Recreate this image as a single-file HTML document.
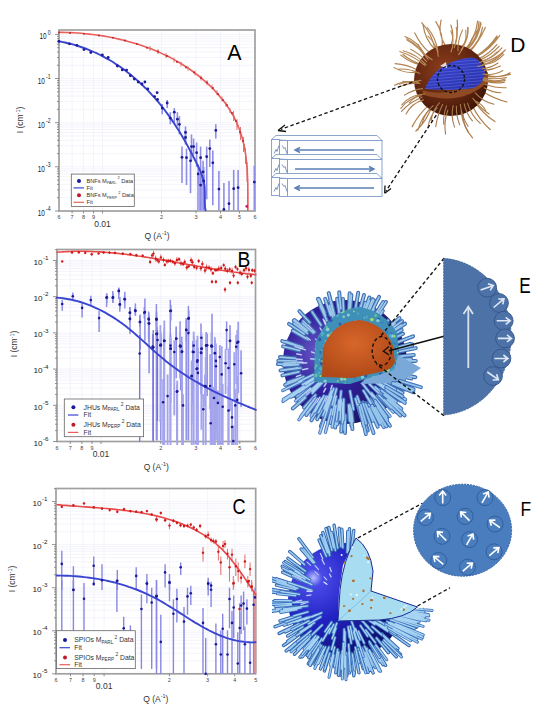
<!DOCTYPE html>
<html><head><meta charset="utf-8"><style>
html,body{margin:0;padding:0;background:#fff;width:543px;height:720px;overflow:hidden}
svg{display:block;font-family:"Liberation Sans", sans-serif}
</style></head><body>
<svg width="543" height="720" viewBox="0 0 543 720">
<rect width="543" height="720" fill="#fff"/>
<g stroke="#efeffa" stroke-width="0.7"><line x1="72.1" y1="30" x2="72.1" y2="211"/><line x1="83.5" y1="30" x2="83.5" y2="211"/><line x1="93.5" y1="30" x2="93.5" y2="211"/><line x1="102.5" y1="30" x2="102.5" y2="211"/><line x1="161.5" y1="30" x2="161.5" y2="211"/><line x1="196.0" y1="30" x2="196.0" y2="211"/><line x1="220.5" y1="30" x2="220.5" y2="211"/><line x1="239.5" y1="30" x2="239.5" y2="211"/><line x1="59" y1="34.4" x2="255" y2="34.4"/><line x1="59" y1="78.5" x2="255" y2="78.5"/><line x1="59" y1="65.3" x2="255" y2="65.3"/><line x1="59" y1="57.5" x2="255" y2="57.5"/><line x1="59" y1="52.0" x2="255" y2="52.0"/><line x1="59" y1="47.7" x2="255" y2="47.7"/><line x1="59" y1="44.2" x2="255" y2="44.2"/><line x1="59" y1="41.2" x2="255" y2="41.2"/><line x1="59" y1="38.7" x2="255" y2="38.7"/><line x1="59" y1="36.4" x2="255" y2="36.4"/><line x1="59" y1="122.7" x2="255" y2="122.7"/><line x1="59" y1="109.4" x2="255" y2="109.4"/><line x1="59" y1="101.6" x2="255" y2="101.6"/><line x1="59" y1="96.1" x2="255" y2="96.1"/><line x1="59" y1="91.8" x2="255" y2="91.8"/><line x1="59" y1="88.3" x2="255" y2="88.3"/><line x1="59" y1="85.4" x2="255" y2="85.4"/><line x1="59" y1="82.8" x2="255" y2="82.8"/><line x1="59" y1="80.6" x2="255" y2="80.6"/><line x1="59" y1="166.8" x2="255" y2="166.8"/><line x1="59" y1="153.6" x2="255" y2="153.6"/><line x1="59" y1="145.8" x2="255" y2="145.8"/><line x1="59" y1="140.3" x2="255" y2="140.3"/><line x1="59" y1="136.0" x2="255" y2="136.0"/><line x1="59" y1="132.5" x2="255" y2="132.5"/><line x1="59" y1="129.5" x2="255" y2="129.5"/><line x1="59" y1="127.0" x2="255" y2="127.0"/><line x1="59" y1="124.7" x2="255" y2="124.7"/><line x1="59" y1="197.7" x2="255" y2="197.7"/><line x1="59" y1="189.9" x2="255" y2="189.9"/><line x1="59" y1="184.4" x2="255" y2="184.4"/><line x1="59" y1="180.1" x2="255" y2="180.1"/><line x1="59" y1="176.6" x2="255" y2="176.6"/><line x1="59" y1="173.7" x2="255" y2="173.7"/><line x1="59" y1="171.1" x2="255" y2="171.1"/><line x1="59" y1="168.9" x2="255" y2="168.9"/></g>
<rect x="59" y="30" width="196" height="181" fill="none" stroke="#a0a0a0" stroke-width="1.7"/>
<g stroke="#777" stroke-width="0.8"><line x1="55" y1="34.4" x2="59" y2="34.4"/><line x1="55" y1="78.5" x2="59" y2="78.5"/><line x1="57" y1="65.3" x2="59" y2="65.3"/><line x1="57" y1="57.5" x2="59" y2="57.5"/><line x1="57" y1="52.0" x2="59" y2="52.0"/><line x1="57" y1="47.7" x2="59" y2="47.7"/><line x1="57" y1="44.2" x2="59" y2="44.2"/><line x1="57" y1="41.2" x2="59" y2="41.2"/><line x1="57" y1="38.7" x2="59" y2="38.7"/><line x1="57" y1="36.4" x2="59" y2="36.4"/><line x1="55" y1="122.7" x2="59" y2="122.7"/><line x1="57" y1="109.4" x2="59" y2="109.4"/><line x1="57" y1="101.6" x2="59" y2="101.6"/><line x1="57" y1="96.1" x2="59" y2="96.1"/><line x1="57" y1="91.8" x2="59" y2="91.8"/><line x1="57" y1="88.3" x2="59" y2="88.3"/><line x1="57" y1="85.4" x2="59" y2="85.4"/><line x1="57" y1="82.8" x2="59" y2="82.8"/><line x1="57" y1="80.6" x2="59" y2="80.6"/><line x1="55" y1="166.8" x2="59" y2="166.8"/><line x1="57" y1="153.6" x2="59" y2="153.6"/><line x1="57" y1="145.8" x2="59" y2="145.8"/><line x1="57" y1="140.3" x2="59" y2="140.3"/><line x1="57" y1="136.0" x2="59" y2="136.0"/><line x1="57" y1="132.5" x2="59" y2="132.5"/><line x1="57" y1="129.5" x2="59" y2="129.5"/><line x1="57" y1="127.0" x2="59" y2="127.0"/><line x1="57" y1="124.7" x2="59" y2="124.7"/><line x1="55" y1="211.0" x2="59" y2="211.0"/><line x1="57" y1="197.7" x2="59" y2="197.7"/><line x1="57" y1="189.9" x2="59" y2="189.9"/><line x1="57" y1="184.4" x2="59" y2="184.4"/><line x1="57" y1="180.1" x2="59" y2="180.1"/><line x1="57" y1="176.6" x2="59" y2="176.6"/><line x1="57" y1="173.7" x2="59" y2="173.7"/><line x1="57" y1="171.1" x2="59" y2="171.1"/><line x1="57" y1="168.9" x2="59" y2="168.9"/><line x1="72.1" y1="211" x2="72.1" y2="213.5"/><line x1="83.5" y1="211" x2="83.5" y2="213.5"/><line x1="93.5" y1="211" x2="93.5" y2="213.5"/><line x1="102.5" y1="211" x2="102.5" y2="213.5"/><line x1="161.5" y1="211" x2="161.5" y2="213.5"/><line x1="196.0" y1="211" x2="196.0" y2="213.5"/><line x1="220.5" y1="211" x2="220.5" y2="213.5"/><line x1="239.5" y1="211" x2="239.5" y2="213.5"/></g>
<g transform="translate(50.5,39.3) scale(0.75,1)"><text x="0" y="0" font-size="8.5" fill="#222" text-anchor="end">10<tspan dx="1.5" dy="-4.6" font-size="6.8">0</tspan></text></g>
<g transform="translate(50.5,83.5) scale(0.75,1)"><text x="0" y="0" font-size="8.5" fill="#222" text-anchor="end">10<tspan dx="1.5" dy="-4.6" font-size="6.8">-1</tspan></text></g>
<g transform="translate(50.5,127.6) scale(0.75,1)"><text x="0" y="0" font-size="8.5" fill="#222" text-anchor="end">10<tspan dx="1.5" dy="-4.6" font-size="6.8">-2</tspan></text></g>
<g transform="translate(50.5,171.8) scale(0.75,1)"><text x="0" y="0" font-size="8.5" fill="#222" text-anchor="end">10<tspan dx="1.5" dy="-4.6" font-size="6.8">-3</tspan></text></g>
<g transform="translate(50.5,215.9) scale(0.75,1)"><text x="0" y="0" font-size="8.5" fill="#222" text-anchor="end">10<tspan dx="1.5" dy="-4.6" font-size="6.8">-4</tspan></text></g>
<text x="59.0" y="219" font-size="5.5" fill="#444" text-anchor="middle">6</text>
<text x="72.1" y="219" font-size="5.5" fill="#444" text-anchor="middle">7</text>
<text x="83.5" y="219" font-size="5.5" fill="#444" text-anchor="middle">8</text>
<text x="93.5" y="219" font-size="5.5" fill="#444" text-anchor="middle">9</text>
<text x="161.5" y="219" font-size="5.5" fill="#444" text-anchor="middle">2</text>
<text x="196.0" y="219" font-size="5.5" fill="#444" text-anchor="middle">3</text>
<text x="220.5" y="219" font-size="5.5" fill="#444" text-anchor="middle">4</text>
<text x="239.5" y="219" font-size="5.5" fill="#444" text-anchor="middle">5</text>
<text x="255.0" y="219" font-size="5.5" fill="#444" text-anchor="middle">6</text>
<text x="102.5" y="226.5" font-size="8.5" fill="#333" text-anchor="middle">0.01</text>
<text transform="translate(23,120) rotate(-90)" font-size="8.5" fill="#333" text-anchor="middle">I (cm<tspan dy="-3.5" font-size="5.5">-1</tspan><tspan dy="3.5">)</tspan></text>
<text x="157.0" y="239" font-size="8.5" fill="#333" text-anchor="middle">Q (A<tspan dy="-4.5" font-size="5.5">-1</tspan><tspan dy="4.5">)</tspan></text>
<path d="M197,175 L205,175 L205.5,211 L197,211 Z" fill="#a8a8f0"/>
<g stroke="#8e8ee6" stroke-width="1.6" opacity="1.0"><line x1="167.2" y1="100.0" x2="167.2" y2="108.1"/><line x1="177.4" y1="112.2" x2="177.4" y2="126.3"/><line x1="185.5" y1="126.3" x2="185.5" y2="140.5"/><line x1="185.5" y1="130.4" x2="185.5" y2="144.6"/><line x1="182.0" y1="146.6" x2="182.0" y2="183.1"/><line x1="186.5" y1="148.6" x2="186.5" y2="185.1"/><line x1="190.5" y1="150.6" x2="190.5" y2="193.2"/><line x1="193.6" y1="138.5" x2="193.6" y2="154.7"/><line x1="196.6" y1="142.5" x2="196.6" y2="166.9"/><line x1="198.2" y1="164.8" x2="198.2" y2="185.1"/><line x1="200.6" y1="146.6" x2="200.6" y2="172.9"/><line x1="203.1" y1="160.8" x2="203.1" y2="185.1"/><line x1="206.7" y1="146.6" x2="206.7" y2="199.3"/><line x1="209.8" y1="139.5" x2="209.8" y2="166.9"/><line x1="212.8" y1="150.6" x2="212.8" y2="205.3"/><line x1="215.8" y1="124.3" x2="215.8" y2="138.5"/><line x1="218.9" y1="170.9" x2="218.9" y2="210.4"/><line x1="223.9" y1="183.1" x2="223.9" y2="210.4"/><line x1="229.0" y1="181.0" x2="229.0" y2="210.4"/><line x1="233.7" y1="169.9" x2="233.7" y2="210.4"/><line x1="238.1" y1="169.9" x2="238.1" y2="210.4"/><line x1="254.3" y1="165.8" x2="254.3" y2="210.4"/><line x1="174.3" y1="108.1" x2="174.3" y2="122.3"/><line x1="162.2" y1="104.1" x2="162.2" y2="114.2"/><line x1="170.3" y1="112.2" x2="170.3" y2="124.3"/><line x1="179.4" y1="116.2" x2="179.4" y2="134.4"/><line x1="191.5" y1="134.4" x2="191.5" y2="160.8"/><line x1="203.7" y1="166.9" x2="203.7" y2="210.4"/><line x1="200.6" y1="170.9" x2="200.6" y2="210.4"/></g>
<g stroke="#e07a7a" stroke-width="1.0" opacity="1.0"><line x1="233.5" y1="111.0" x2="233.5" y2="121.0"/><line x1="237.0" y1="119.0" x2="237.0" y2="130.0"/><line x1="240.5" y1="127.0" x2="240.5" y2="140.0"/><line x1="243.5" y1="137.0" x2="243.5" y2="152.0"/><line x1="245.5" y1="148.0" x2="245.5" y2="164.0"/><line x1="247.0" y1="162.0" x2="247.0" y2="182.0"/><line x1="247.5" y1="180.0" x2="247.5" y2="211.0"/><line x1="150.0" y1="46.0" x2="150.0" y2="51.0"/><line x1="158.0" y1="49.1" x2="158.0" y2="54.1"/><line x1="166.0" y1="53.1" x2="166.0" y2="58.1"/><line x1="174.0" y1="57.6" x2="174.0" y2="62.6"/><line x1="181.0" y1="61.7" x2="181.0" y2="66.7"/><line x1="188.0" y1="65.9" x2="188.0" y2="70.9"/><line x1="195.0" y1="70.6" x2="195.0" y2="75.6"/><line x1="201.0" y1="75.5" x2="201.0" y2="80.5"/><line x1="207.0" y1="80.2" x2="207.0" y2="85.2"/><line x1="212.0" y1="84.5" x2="212.0" y2="89.5"/><line x1="217.0" y1="90.1" x2="217.0" y2="95.1"/><line x1="222.0" y1="96.5" x2="222.0" y2="101.5"/><line x1="226.0" y1="102.0" x2="226.0" y2="107.0"/><line x1="230.0" y1="108.2" x2="230.0" y2="113.2"/><line x1="234.0" y1="115.1" x2="234.0" y2="120.1"/><line x1="237.0" y1="122.4" x2="237.0" y2="127.4"/><line x1="240.0" y1="130.1" x2="240.0" y2="135.1"/><line x1="242.5" y1="137.2" x2="242.5" y2="142.2"/><line x1="244.5" y1="144.4" x2="244.5" y2="149.4"/></g>
<path d="M59.0,32.3 L62.7,32.4 L66.5,32.5 L70.2,32.6 L73.9,32.8 L77.7,33.0 L81.4,33.3 L85.2,33.7 L89.0,34.1 L92.7,34.5 L96.5,35.0 L100.2,35.5 L104.0,36.1 L107.7,36.8 L111.5,37.5 L115.2,38.3 L118.9,39.1 L122.6,40.0 L126.3,40.9 L130.0,41.9 L133.6,42.9 L137.3,44.1 L140.9,45.2 L144.5,46.5 L148.1,47.8 L151.6,49.1 L155.1,50.5 L158.6,52.0 L162.0,53.6 L165.5,55.2 L168.9,56.8 L172.2,58.6 L175.5,60.4 L178.8,62.3 L182.0,64.2 L185.2,66.2 L188.4,68.3 L191.5,70.5 L194.5,72.7 L197.5,75.0 L200.5,77.4 L203.4,79.8 L206.2,82.3 L209.0,84.9 L211.7,87.5 L214.4,90.3 L216.9,93.1 L219.4,95.9 L221.8,98.9 L224.2,101.8 L226.4,104.9 L228.5,108.0 L230.5,111.2 L232.4,114.4 L234.3,117.7 L235.9,121.1 L237.5,124.5 L238.9,128.0 L240.2,131.5 L241.4,135.1 L242.4,138.7 L243.3,142.3 L244.2,146.0 L244.9,149.8 L245.5,153.5 L246.0,157.3 L246.4,161.1 L246.8,164.9 L247.1,168.8 L247.3,172.6 L247.5,176.4 L247.7,180.3 L247.8,184.1 L247.8,187.9 L247.9,191.7 L247.9,195.5 L247.9,199.3 L247.9,203.0 L247.9,206.7 L247.9,210.3" fill="none" stroke="#e8605a" stroke-width="1.6" stroke-linecap="round" stroke-linejoin="round"/>
<path d="M58.8,41.3 L61.9,41.9 L64.9,42.5 L67.9,43.2 L70.9,43.9 L73.8,44.7 L76.7,45.6 L79.6,46.5 L82.5,47.5 L85.4,48.5 L88.2,49.6 L91.0,50.8 L93.8,52.0 L96.5,53.2 L99.3,54.5 L101.9,55.9 L104.6,57.3 L107.3,58.8 L109.9,60.3 L112.5,61.8 L115.0,63.5 L117.5,65.1 L120.1,66.8 L122.5,68.6 L125.0,70.3 L127.4,72.2 L129.8,74.0 L132.1,75.9 L134.4,77.9 L136.7,79.9 L139.0,81.9 L141.2,84.0 L143.4,86.1 L145.6,88.2 L147.8,90.4 L149.9,92.6 L151.9,94.8 L154.0,97.0 L156.0,99.3 L158.0,101.6 L159.9,104.0 L161.8,106.4 L163.7,108.8 L165.5,111.2 L167.3,113.6 L169.1,116.1 L170.9,118.6 L172.6,121.1 L174.3,123.6 L175.9,126.2 L177.6,128.7 L179.2,131.3 L180.8,133.9 L182.3,136.5 L183.8,139.1 L185.4,141.8 L186.8,144.4 L188.3,147.1 L189.7,149.8 L191.2,152.5 L192.6,155.1 L193.9,157.8 L195.3,160.5 L196.6,163.2 L198.0,166.0 L199.2,168.7 L200.4,171.4 L201.5,174.2 L202.5,177.1 L203.3,180.0 L204.0,182.9 L204.5,185.9 L204.7,189.0 L204.8,192.2 L204.8,195.3 L204.8,198.5 L204.8,201.6 L204.9,204.7 L205.1,207.6 L205.6,210.4" fill="none" stroke="#3a45d0" stroke-width="1.9" stroke-linecap="round" stroke-linejoin="round"/>
<circle cx="59.0" cy="32.5" r="0.9" fill="#c01a2a"/><circle cx="70.0" cy="33.0" r="0.9" fill="#c01a2a"/><circle cx="84.0" cy="33.8" r="0.9" fill="#c01a2a"/><circle cx="99.0" cy="35.5" r="0.9" fill="#c01a2a"/><circle cx="113.0" cy="37.7" r="0.9" fill="#c01a2a"/><circle cx="125.0" cy="40.5" r="0.9" fill="#c01a2a"/><circle cx="137.0" cy="44.0" r="0.9" fill="#c01a2a"/><circle cx="147.0" cy="47.8" r="0.9" fill="#c01a2a"/><circle cx="158.0" cy="51.5" r="0.9" fill="#c01a2a"/><circle cx="167.0" cy="56.0" r="0.9" fill="#c01a2a"/><circle cx="177.0" cy="62.0" r="0.9" fill="#c01a2a"/><circle cx="186.0" cy="67.5" r="0.9" fill="#c01a2a"/><circle cx="194.0" cy="72.5" r="0.9" fill="#c01a2a"/><circle cx="201.0" cy="78.0" r="0.9" fill="#c01a2a"/><circle cx="207.0" cy="82.5" r="0.9" fill="#c01a2a"/><circle cx="213.0" cy="88.0" r="0.9" fill="#c01a2a"/><circle cx="218.0" cy="94.0" r="0.9" fill="#c01a2a"/><circle cx="223.0" cy="100.0" r="0.9" fill="#c01a2a"/><circle cx="227.0" cy="105.0" r="0.9" fill="#c01a2a"/><circle cx="232.0" cy="113.0" r="0.9" fill="#c01a2a"/><circle cx="236.0" cy="121.0" r="0.9" fill="#c01a2a"/><circle cx="240.0" cy="132.0" r="0.9" fill="#c01a2a"/><circle cx="243.0" cy="141.0" r="0.9" fill="#c01a2a"/>
<circle cx="58.9" cy="41.4" r="1.4" fill="#1a1a9a"/><circle cx="69.5" cy="43.8" r="1.4" fill="#1a1a9a"/><circle cx="76.9" cy="45.3" r="1.4" fill="#1a1a9a"/><circle cx="84.0" cy="49.6" r="1.4" fill="#1a1a9a"/><circle cx="90.8" cy="52.5" r="1.4" fill="#1a1a9a"/><circle cx="102.4" cy="55.0" r="1.4" fill="#1a1a9a"/><circle cx="108.2" cy="57.5" r="1.4" fill="#1a1a9a"/><circle cx="117.3" cy="66.0" r="1.4" fill="#1a1a9a"/><circle cx="122.3" cy="69.9" r="1.4" fill="#1a1a9a"/><circle cx="126.6" cy="70.1" r="1.4" fill="#1a1a9a"/><circle cx="130.4" cy="75.7" r="1.4" fill="#1a1a9a"/><circle cx="134.3" cy="79.1" r="1.4" fill="#1a1a9a"/><circle cx="138.2" cy="82.0" r="1.4" fill="#1a1a9a"/><circle cx="142.0" cy="84.0" r="1.4" fill="#1a1a9a"/><circle cx="144.9" cy="82.0" r="1.4" fill="#1a1a9a"/><circle cx="147.8" cy="88.8" r="1.4" fill="#1a1a9a"/><circle cx="154.6" cy="96.6" r="1.4" fill="#1a1a9a"/><circle cx="157.1" cy="92.7" r="1.4" fill="#1a1a9a"/><circle cx="157.5" cy="99.5" r="1.4" fill="#1a1a9a"/>
<circle cx="167.2" cy="103.0" r="1.4" fill="#1a1a9a"/><circle cx="177.4" cy="119.2" r="1.4" fill="#1a1a9a"/><circle cx="185.5" cy="132.4" r="1.4" fill="#1a1a9a"/><circle cx="185.5" cy="137.5" r="1.4" fill="#1a1a9a"/><circle cx="182.0" cy="157.3" r="1.4" fill="#1a1a9a"/><circle cx="186.5" cy="157.7" r="1.4" fill="#1a1a9a"/><circle cx="190.5" cy="160.8" r="1.4" fill="#1a1a9a"/><circle cx="193.6" cy="146.6" r="1.4" fill="#1a1a9a"/><circle cx="196.6" cy="152.7" r="1.4" fill="#1a1a9a"/><circle cx="198.2" cy="173.9" r="1.4" fill="#1a1a9a"/><circle cx="200.6" cy="157.7" r="1.4" fill="#1a1a9a"/><circle cx="203.1" cy="171.9" r="1.4" fill="#1a1a9a"/><circle cx="206.7" cy="156.7" r="1.4" fill="#1a1a9a"/><circle cx="209.8" cy="148.6" r="1.4" fill="#1a1a9a"/><circle cx="212.8" cy="162.8" r="1.4" fill="#1a1a9a"/><circle cx="215.8" cy="130.4" r="1.4" fill="#1a1a9a"/><circle cx="218.9" cy="189.1" r="1.4" fill="#1a1a9a"/><circle cx="223.9" cy="209.4" r="1.4" fill="#1a1a9a"/><circle cx="229.0" cy="203.7" r="1.4" fill="#1a1a9a"/><circle cx="233.7" cy="188.7" r="1.4" fill="#1a1a9a"/><circle cx="238.1" cy="187.7" r="1.4" fill="#1a1a9a"/><circle cx="254.3" cy="182.1" r="1.4" fill="#1a1a9a"/><circle cx="174.3" cy="112.2" r="1.4" fill="#1a1a9a"/><circle cx="162.2" cy="108.1" r="1.4" fill="#1a1a9a"/><circle cx="170.3" cy="118.2" r="1.4" fill="#1a1a9a"/><circle cx="179.4" cy="124.3" r="1.4" fill="#1a1a9a"/><circle cx="191.5" cy="146.6" r="1.4" fill="#1a1a9a"/><circle cx="203.7" cy="181.0" r="1.4" fill="#1a1a9a"/><circle cx="200.6" cy="185.1" r="1.4" fill="#1a1a9a"/>
<circle cx="246.8" cy="206.4" r="1.4" fill="#c01a6a"/>
<rect x="71.3" y="174.1" width="63" height="32.3" fill="#fff" stroke="#666" stroke-width="0.8"/>
<circle cx="79.0" cy="181.0" r="2" fill="#1a1a9a"/>
<line x1="73.5" y1="187.9" x2="84.0" y2="187.9" stroke="#3a45d0" stroke-width="1.2"/>
<circle cx="79.0" cy="195.3" r="2" fill="#c01a2a"/>
<line x1="73.5" y1="202.3" x2="84.0" y2="202.3" stroke="#e8605a" stroke-width="1.2"/>
<text x="86.5" y="183.0" font-size="5.6" fill="#333">BNFs M<tspan dy="1.3" font-size="3.81">PARL</tspan><tspan dy="-5" font-size="4.03"> 2</tspan><tspan dy="3.7"> Data</tspan></text>
<text x="86.5" y="189.9" font-size="5.6" fill="#333">Fit</text>
<text x="86.5" y="197.3" font-size="5.6" fill="#333">BNFs M<tspan dy="1.3" font-size="3.81">PERP</tspan><tspan dy="-5" font-size="4.03"> 2</tspan><tspan dy="3.7"> Data</tspan></text>
<text x="86.5" y="204.3" font-size="5.6" fill="#333">Fit</text>
<text x="227.3" y="59.7" font-size="21.4" fill="#000">A</text>
<g stroke="#efeffa" stroke-width="0.7"><line x1="70.3" y1="249.5" x2="70.3" y2="441.5"/><line x1="81.8" y1="249.5" x2="81.8" y2="441.5"/><line x1="92.0" y1="249.5" x2="92.0" y2="441.5"/><line x1="101.0" y1="249.5" x2="101.0" y2="441.5"/><line x1="160.8" y1="249.5" x2="160.8" y2="441.5"/><line x1="195.7" y1="249.5" x2="195.7" y2="441.5"/><line x1="220.5" y1="249.5" x2="220.5" y2="441.5"/><line x1="239.8" y1="249.5" x2="239.8" y2="441.5"/><line x1="57" y1="260.5" x2="255.5" y2="260.5"/><line x1="57" y1="249.6" x2="255.5" y2="249.6"/><line x1="57" y1="296.7" x2="255.5" y2="296.7"/><line x1="57" y1="285.8" x2="255.5" y2="285.8"/><line x1="57" y1="279.4" x2="255.5" y2="279.4"/><line x1="57" y1="274.9" x2="255.5" y2="274.9"/><line x1="57" y1="271.4" x2="255.5" y2="271.4"/><line x1="57" y1="268.5" x2="255.5" y2="268.5"/><line x1="57" y1="266.1" x2="255.5" y2="266.1"/><line x1="57" y1="264.0" x2="255.5" y2="264.0"/><line x1="57" y1="262.2" x2="255.5" y2="262.2"/><line x1="57" y1="332.9" x2="255.5" y2="332.9"/><line x1="57" y1="322.0" x2="255.5" y2="322.0"/><line x1="57" y1="315.6" x2="255.5" y2="315.6"/><line x1="57" y1="311.1" x2="255.5" y2="311.1"/><line x1="57" y1="307.6" x2="255.5" y2="307.6"/><line x1="57" y1="304.7" x2="255.5" y2="304.7"/><line x1="57" y1="302.3" x2="255.5" y2="302.3"/><line x1="57" y1="300.2" x2="255.5" y2="300.2"/><line x1="57" y1="298.4" x2="255.5" y2="298.4"/><line x1="57" y1="369.1" x2="255.5" y2="369.1"/><line x1="57" y1="358.2" x2="255.5" y2="358.2"/><line x1="57" y1="351.8" x2="255.5" y2="351.8"/><line x1="57" y1="347.3" x2="255.5" y2="347.3"/><line x1="57" y1="343.8" x2="255.5" y2="343.8"/><line x1="57" y1="340.9" x2="255.5" y2="340.9"/><line x1="57" y1="338.5" x2="255.5" y2="338.5"/><line x1="57" y1="336.4" x2="255.5" y2="336.4"/><line x1="57" y1="334.6" x2="255.5" y2="334.6"/><line x1="57" y1="405.3" x2="255.5" y2="405.3"/><line x1="57" y1="394.4" x2="255.5" y2="394.4"/><line x1="57" y1="388.0" x2="255.5" y2="388.0"/><line x1="57" y1="383.5" x2="255.5" y2="383.5"/><line x1="57" y1="380.0" x2="255.5" y2="380.0"/><line x1="57" y1="377.1" x2="255.5" y2="377.1"/><line x1="57" y1="374.7" x2="255.5" y2="374.7"/><line x1="57" y1="372.6" x2="255.5" y2="372.6"/><line x1="57" y1="370.8" x2="255.5" y2="370.8"/><line x1="57" y1="430.6" x2="255.5" y2="430.6"/><line x1="57" y1="424.2" x2="255.5" y2="424.2"/><line x1="57" y1="419.7" x2="255.5" y2="419.7"/><line x1="57" y1="416.2" x2="255.5" y2="416.2"/><line x1="57" y1="413.3" x2="255.5" y2="413.3"/><line x1="57" y1="410.9" x2="255.5" y2="410.9"/><line x1="57" y1="408.8" x2="255.5" y2="408.8"/><line x1="57" y1="407.0" x2="255.5" y2="407.0"/></g>
<rect x="57" y="249.5" width="198.5" height="192.0" fill="none" stroke="#a0a0a0" stroke-width="1.7"/>
<g stroke="#777" stroke-width="0.8"><line x1="53" y1="260.5" x2="57" y2="260.5"/><line x1="55" y1="249.6" x2="57" y2="249.6"/><line x1="53" y1="296.7" x2="57" y2="296.7"/><line x1="55" y1="285.8" x2="57" y2="285.8"/><line x1="55" y1="279.4" x2="57" y2="279.4"/><line x1="55" y1="274.9" x2="57" y2="274.9"/><line x1="55" y1="271.4" x2="57" y2="271.4"/><line x1="55" y1="268.5" x2="57" y2="268.5"/><line x1="55" y1="266.1" x2="57" y2="266.1"/><line x1="55" y1="264.0" x2="57" y2="264.0"/><line x1="55" y1="262.2" x2="57" y2="262.2"/><line x1="53" y1="332.9" x2="57" y2="332.9"/><line x1="55" y1="322.0" x2="57" y2="322.0"/><line x1="55" y1="315.6" x2="57" y2="315.6"/><line x1="55" y1="311.1" x2="57" y2="311.1"/><line x1="55" y1="307.6" x2="57" y2="307.6"/><line x1="55" y1="304.7" x2="57" y2="304.7"/><line x1="55" y1="302.3" x2="57" y2="302.3"/><line x1="55" y1="300.2" x2="57" y2="300.2"/><line x1="55" y1="298.4" x2="57" y2="298.4"/><line x1="53" y1="369.1" x2="57" y2="369.1"/><line x1="55" y1="358.2" x2="57" y2="358.2"/><line x1="55" y1="351.8" x2="57" y2="351.8"/><line x1="55" y1="347.3" x2="57" y2="347.3"/><line x1="55" y1="343.8" x2="57" y2="343.8"/><line x1="55" y1="340.9" x2="57" y2="340.9"/><line x1="55" y1="338.5" x2="57" y2="338.5"/><line x1="55" y1="336.4" x2="57" y2="336.4"/><line x1="55" y1="334.6" x2="57" y2="334.6"/><line x1="53" y1="405.3" x2="57" y2="405.3"/><line x1="55" y1="394.4" x2="57" y2="394.4"/><line x1="55" y1="388.0" x2="57" y2="388.0"/><line x1="55" y1="383.5" x2="57" y2="383.5"/><line x1="55" y1="380.0" x2="57" y2="380.0"/><line x1="55" y1="377.1" x2="57" y2="377.1"/><line x1="55" y1="374.7" x2="57" y2="374.7"/><line x1="55" y1="372.6" x2="57" y2="372.6"/><line x1="55" y1="370.8" x2="57" y2="370.8"/><line x1="53" y1="441.5" x2="57" y2="441.5"/><line x1="55" y1="430.6" x2="57" y2="430.6"/><line x1="55" y1="424.2" x2="57" y2="424.2"/><line x1="55" y1="419.7" x2="57" y2="419.7"/><line x1="55" y1="416.2" x2="57" y2="416.2"/><line x1="55" y1="413.3" x2="57" y2="413.3"/><line x1="55" y1="410.9" x2="57" y2="410.9"/><line x1="55" y1="408.8" x2="57" y2="408.8"/><line x1="55" y1="407.0" x2="57" y2="407.0"/><line x1="70.3" y1="441.5" x2="70.3" y2="444.0"/><line x1="81.8" y1="441.5" x2="81.8" y2="444.0"/><line x1="92.0" y1="441.5" x2="92.0" y2="444.0"/><line x1="101.0" y1="441.5" x2="101.0" y2="444.0"/><line x1="160.8" y1="441.5" x2="160.8" y2="444.0"/><line x1="195.7" y1="441.5" x2="195.7" y2="444.0"/><line x1="220.5" y1="441.5" x2="220.5" y2="444.0"/><line x1="239.8" y1="441.5" x2="239.8" y2="444.0"/></g>
<g transform="translate(48.5,264.7) scale(1.08,1)"><text x="0" y="0" font-size="7.6" fill="#222" text-anchor="end">10<tspan dx="0.4" dy="-4.6" font-size="5.8">-1</tspan></text></g>
<g transform="translate(48.5,300.9) scale(1.08,1)"><text x="0" y="0" font-size="7.6" fill="#222" text-anchor="end">10<tspan dx="0.4" dy="-4.6" font-size="5.8">-2</tspan></text></g>
<g transform="translate(48.5,337.1) scale(1.08,1)"><text x="0" y="0" font-size="7.6" fill="#222" text-anchor="end">10<tspan dx="0.4" dy="-4.6" font-size="5.8">-3</tspan></text></g>
<g transform="translate(48.5,373.3) scale(1.08,1)"><text x="0" y="0" font-size="7.6" fill="#222" text-anchor="end">10<tspan dx="0.4" dy="-4.6" font-size="5.8">-4</tspan></text></g>
<g transform="translate(48.5,409.5) scale(1.08,1)"><text x="0" y="0" font-size="7.6" fill="#222" text-anchor="end">10<tspan dx="0.4" dy="-4.6" font-size="5.8">-5</tspan></text></g>
<g transform="translate(48.5,445.7) scale(1.08,1)"><text x="0" y="0" font-size="7.6" fill="#222" text-anchor="end">10<tspan dx="0.4" dy="-4.6" font-size="5.8">-6</tspan></text></g>
<text x="57.0" y="449.5" font-size="5.5" fill="#444" text-anchor="middle">6</text>
<text x="70.3" y="449.5" font-size="5.5" fill="#444" text-anchor="middle">7</text>
<text x="81.8" y="449.5" font-size="5.5" fill="#444" text-anchor="middle">8</text>
<text x="92.0" y="449.5" font-size="5.5" fill="#444" text-anchor="middle">9</text>
<text x="160.8" y="449.5" font-size="5.5" fill="#444" text-anchor="middle">2</text>
<text x="195.7" y="449.5" font-size="5.5" fill="#444" text-anchor="middle">3</text>
<text x="220.5" y="449.5" font-size="5.5" fill="#444" text-anchor="middle">4</text>
<text x="239.8" y="449.5" font-size="5.5" fill="#444" text-anchor="middle">5</text>
<text x="255.5" y="449.5" font-size="5.5" fill="#444" text-anchor="middle">6</text>
<text x="101.0" y="457.0" font-size="8.5" fill="#333" text-anchor="middle">0.01</text>
<text transform="translate(17,344) rotate(-90)" font-size="8.5" fill="#333" text-anchor="middle">I (cm<tspan dy="-3.5" font-size="5.5">-1</tspan><tspan dy="3.5">)</tspan></text>
<text x="156.25" y="470" font-size="8.5" fill="#333" text-anchor="middle">Q (A<tspan dy="-4.5" font-size="5.5">-1</tspan><tspan dy="4.5">)</tspan></text>
<g stroke="#8e8ee6" stroke-width="1.5" opacity="1.0"><line x1="62.2" y1="300.1" x2="62.2" y2="310.8"/><line x1="72.8" y1="292.4" x2="72.8" y2="300.1"/><line x1="82.1" y1="303.0" x2="82.1" y2="317.5"/><line x1="90.8" y1="295.7" x2="90.8" y2="305.3"/><line x1="99.1" y1="310.8" x2="99.1" y2="332.0"/><line x1="106.8" y1="293.3" x2="106.8" y2="303.0"/><line x1="113.0" y1="293.3" x2="113.0" y2="303.0"/><line x1="118.8" y1="287.9" x2="118.8" y2="294.9"/><line x1="119.8" y1="300.1" x2="119.8" y2="311.7"/><line x1="124.6" y1="295.7" x2="124.6" y2="303.0"/><line x1="130.0" y1="306.9" x2="130.0" y2="318.5"/><line x1="130.0" y1="312.7" x2="130.0" y2="334.0"/><line x1="135.3" y1="306.9" x2="135.3" y2="314.6"/><line x1="140.1" y1="314.6" x2="140.1" y2="350.0"/><line x1="144.3" y1="306.9" x2="144.3" y2="318.5"/><line x1="148.8" y1="312.7" x2="148.8" y2="326.2"/><line x1="148.8" y1="318.5" x2="148.8" y2="341.7"/><line x1="152.7" y1="334.0" x2="152.7" y2="350.0"/><line x1="156.5" y1="312.7" x2="156.5" y2="325.3"/><line x1="156.5" y1="322.4" x2="156.5" y2="350.0"/><line x1="156.5" y1="311.7" x2="156.5" y2="335.9"/><line x1="156.9" y1="326.2" x2="156.9" y2="350.0"/><line x1="160.8" y1="332.0" x2="160.8" y2="350.0"/><line x1="164.3" y1="328.2" x2="164.3" y2="350.0"/><line x1="170.9" y1="304.9" x2="170.9" y2="320.4"/><line x1="170.5" y1="334.0" x2="170.5" y2="350.0"/><line x1="176.3" y1="327.2" x2="176.3" y2="350.0"/><line x1="180.1" y1="332.0" x2="180.1" y2="350.0"/><line x1="186.3" y1="320.4" x2="186.3" y2="341.7"/><line x1="188.8" y1="310.8" x2="188.8" y2="332.0"/><line x1="193.7" y1="335.9" x2="193.7" y2="350.0"/><line x1="201.4" y1="334.0" x2="201.4" y2="350.0"/><line x1="206.2" y1="332.0" x2="206.2" y2="350.0"/><line x1="211.5" y1="332.0" x2="211.5" y2="350.0"/><line x1="226.6" y1="321.4" x2="226.6" y2="350.0"/><line x1="230.0" y1="328.2" x2="230.0" y2="350.0"/><line x1="237.2" y1="330.1" x2="237.2" y2="350.0"/><line x1="106.6" y1="294.3" x2="106.6" y2="307.1"/><line x1="112.8" y1="290.9" x2="112.8" y2="302.7"/><line x1="118.8" y1="287.5" x2="118.8" y2="299.3"/><line x1="119.9" y1="296.9" x2="119.9" y2="309.0"/><line x1="124.8" y1="291.8" x2="124.8" y2="308.4"/><line x1="129.8" y1="307.0" x2="129.8" y2="318.9"/><line x1="129.8" y1="315.5" x2="129.8" y2="322.3"/><line x1="135.4" y1="303.4" x2="135.4" y2="315.9"/><line x1="139.8" y1="315.8" x2="139.8" y2="327.1"/><line x1="144.9" y1="298.4" x2="144.9" y2="340.8"/><line x1="148.6" y1="311.5" x2="148.6" y2="339.0"/><line x1="149.1" y1="315.8" x2="149.1" y2="373.3"/><line x1="153.0" y1="335.8" x2="153.0" y2="440.3"/><line x1="156.4" y1="304.1" x2="156.4" y2="440.3"/><line x1="157.0" y1="328.1" x2="157.0" y2="440.3"/><line x1="160.8" y1="335.3" x2="160.8" y2="440.3"/><line x1="164.1" y1="333.6" x2="164.1" y2="440.3"/><line x1="170.3" y1="299.8" x2="170.3" y2="440.3"/><line x1="170.7" y1="339.4" x2="170.7" y2="403.1"/><line x1="176.2" y1="326.6" x2="176.2" y2="378.3"/><line x1="176.9" y1="384.7" x2="176.9" y2="440.3"/><line x1="180.7" y1="340.7" x2="180.7" y2="390.4"/><line x1="181.8" y1="336.8" x2="181.8" y2="440.3"/><line x1="186.2" y1="317.9" x2="186.2" y2="440.3"/><line x1="188.4" y1="305.9" x2="188.4" y2="440.3"/><line x1="188.4" y1="317.6" x2="188.4" y2="440.3"/><line x1="192.8" y1="340.9" x2="192.8" y2="403.4"/><line x1="191.7" y1="363.3" x2="191.7" y2="423.7"/><line x1="197.2" y1="347.2" x2="197.2" y2="440.3"/><line x1="197.2" y1="356.1" x2="197.2" y2="418.9"/><line x1="201.7" y1="338.9" x2="201.7" y2="398.7"/><line x1="201.2" y1="341.8" x2="201.2" y2="385.0"/><line x1="205.0" y1="374.8" x2="205.0" y2="406.8"/><line x1="207.2" y1="333.4" x2="207.2" y2="396.0"/><line x1="211.6" y1="333.6" x2="211.6" y2="440.3"/><line x1="214.9" y1="340.1" x2="214.9" y2="387.2"/><line x1="216.0" y1="352.4" x2="216.0" y2="440.3"/></g>
<g stroke="#a4a4ee" stroke-width="1.9" opacity="1.0"><line x1="160.4" y1="325.2" x2="160.4" y2="422.2"/><line x1="164.3" y1="320.5" x2="164.3" y2="445.0"/><line x1="163.1" y1="379.0" x2="163.1" y2="445.0"/><line x1="167.6" y1="374.5" x2="167.6" y2="445.0"/><line x1="170.5" y1="336.8" x2="170.5" y2="445.0"/><line x1="174.3" y1="340.2" x2="174.3" y2="415.4"/><line x1="177.2" y1="380.6" x2="177.2" y2="445.0"/><line x1="180.1" y1="321.3" x2="180.1" y2="378.5"/><line x1="182.1" y1="341.6" x2="182.1" y2="445.0"/><line x1="183.0" y1="394.3" x2="183.0" y2="445.0"/><line x1="191.7" y1="360.5" x2="191.7" y2="445.0"/><line x1="193.7" y1="331.6" x2="193.7" y2="445.0"/><line x1="196.6" y1="339.8" x2="196.6" y2="445.0"/><line x1="197.5" y1="335.8" x2="197.5" y2="445.0"/><line x1="197.9" y1="347.8" x2="197.9" y2="445.0"/><line x1="201.4" y1="332.6" x2="201.4" y2="429.7"/><line x1="201.0" y1="323.4" x2="201.0" y2="394.1"/><line x1="203.3" y1="394.2" x2="203.3" y2="445.0"/><line x1="206.2" y1="334.1" x2="206.2" y2="391.9"/><line x1="205.7" y1="357.1" x2="205.7" y2="445.0"/><line x1="210.1" y1="354.1" x2="210.1" y2="409.3"/><line x1="210.7" y1="408.6" x2="210.7" y2="445.0"/><line x1="212.0" y1="313.8" x2="212.0" y2="445.0"/><line x1="214.0" y1="386.7" x2="214.0" y2="445.0"/><line x1="214.9" y1="337.2" x2="214.9" y2="445.0"/><line x1="215.9" y1="343.5" x2="215.9" y2="428.1"/><line x1="217.9" y1="390.4" x2="217.9" y2="445.0"/><line x1="219.8" y1="345.0" x2="219.8" y2="445.0"/><line x1="221.7" y1="346.3" x2="221.7" y2="445.0"/><line x1="222.7" y1="384.1" x2="222.7" y2="445.0"/><line x1="225.6" y1="349.1" x2="225.6" y2="394.0"/><line x1="228.5" y1="386.0" x2="228.5" y2="445.0"/><line x1="228.5" y1="348.6" x2="228.5" y2="445.0"/><line x1="230.0" y1="325.0" x2="230.0" y2="410.8"/><line x1="232.0" y1="400.6" x2="232.0" y2="445.0"/><line x1="232.0" y1="408.2" x2="232.0" y2="445.0"/><line x1="234.3" y1="352.2" x2="234.3" y2="399.8"/><line x1="233.3" y1="425.5" x2="233.3" y2="445.0"/><line x1="235.3" y1="388.8" x2="235.3" y2="445.0"/><line x1="236.2" y1="335.0" x2="236.2" y2="384.1"/><line x1="237.2" y1="376.3" x2="237.2" y2="445.0"/><line x1="238.2" y1="321.7" x2="238.2" y2="393.2"/><line x1="241.1" y1="350.3" x2="241.1" y2="407.1"/></g>
<g stroke="#7070e0" stroke-width="1.3" opacity="1.0"><line x1="139.7" y1="335.0" x2="139.7" y2="441.5"/><line x1="153.2" y1="330.0" x2="153.2" y2="441.5"/><line x1="157.5" y1="330.0" x2="157.5" y2="421.0"/></g>
<g stroke="#e07070" stroke-width="1.0" opacity="1.0"><line x1="72.0" y1="250.9" x2="72.0" y2="253.9"/><line x1="78.8" y1="250.7" x2="78.8" y2="253.7"/><line x1="85.2" y1="251.3" x2="85.2" y2="254.3"/><line x1="91.7" y1="252.7" x2="91.7" y2="255.7"/><line x1="98.6" y1="251.9" x2="98.6" y2="254.9"/><line x1="103.6" y1="251.0" x2="103.6" y2="254.0"/><line x1="109.5" y1="251.1" x2="109.5" y2="254.1"/><line x1="115.0" y1="251.4" x2="115.0" y2="254.4"/><line x1="122.7" y1="252.2" x2="122.7" y2="255.2"/><line x1="130.4" y1="252.6" x2="130.4" y2="255.6"/><line x1="136.4" y1="253.8" x2="136.4" y2="256.8"/><line x1="142.7" y1="254.3" x2="142.7" y2="257.3"/><line x1="150.1" y1="259.5" x2="150.1" y2="264.2"/><line x1="152.1" y1="253.2" x2="152.1" y2="257.7"/><line x1="153.5" y1="250.7" x2="153.5" y2="256.6"/><line x1="155.7" y1="255.6" x2="155.7" y2="261.8"/><line x1="157.3" y1="257.9" x2="157.3" y2="262.3"/><line x1="158.8" y1="259.0" x2="158.8" y2="263.8"/><line x1="160.9" y1="254.4" x2="160.9" y2="260.3"/><line x1="163.5" y1="257.5" x2="163.5" y2="262.4"/><line x1="164.8" y1="263.0" x2="164.8" y2="266.8"/><line x1="166.9" y1="258.8" x2="166.9" y2="264.0"/><line x1="168.6" y1="258.9" x2="168.6" y2="262.9"/><line x1="170.4" y1="258.8" x2="170.4" y2="262.5"/><line x1="172.8" y1="259.8" x2="172.8" y2="263.6"/><line x1="174.9" y1="260.9" x2="174.9" y2="265.8"/><line x1="176.9" y1="256.9" x2="176.9" y2="263.1"/><line x1="179.1" y1="257.2" x2="179.1" y2="261.4"/><line x1="181.0" y1="260.9" x2="181.0" y2="265.9"/><line x1="183.2" y1="262.0" x2="183.2" y2="266.1"/><line x1="184.7" y1="259.4" x2="184.7" y2="264.5"/><line x1="186.8" y1="264.6" x2="186.8" y2="270.4"/><line x1="188.6" y1="264.2" x2="188.6" y2="268.1"/><line x1="191.1" y1="257.4" x2="191.1" y2="263.0"/><line x1="192.4" y1="259.2" x2="192.4" y2="265.3"/><line x1="194.2" y1="264.1" x2="194.2" y2="269.3"/><line x1="196.6" y1="265.4" x2="196.6" y2="270.3"/><line x1="198.7" y1="258.9" x2="198.7" y2="263.1"/><line x1="200.9" y1="265.5" x2="200.9" y2="271.1"/><line x1="202.4" y1="261.0" x2="202.4" y2="267.1"/><line x1="205.0" y1="267.6" x2="205.0" y2="273.4"/><line x1="206.6" y1="264.4" x2="206.6" y2="270.5"/><line x1="209.0" y1="265.3" x2="209.0" y2="270.1"/><line x1="211.0" y1="266.5" x2="211.0" y2="272.3"/><line x1="212.9" y1="271.3" x2="212.9" y2="275.1"/><line x1="215.2" y1="268.0" x2="215.2" y2="272.1"/><line x1="216.9" y1="267.9" x2="216.9" y2="271.9"/><line x1="218.8" y1="265.7" x2="218.8" y2="271.4"/><line x1="221.2" y1="265.5" x2="221.2" y2="270.5"/><line x1="223.7" y1="263.2" x2="223.7" y2="267.0"/><line x1="225.2" y1="265.9" x2="225.2" y2="271.6"/><line x1="227.3" y1="268.1" x2="227.3" y2="273.2"/><line x1="229.7" y1="267.0" x2="229.7" y2="271.7"/><line x1="232.1" y1="267.8" x2="232.1" y2="273.9"/><line x1="233.6" y1="273.0" x2="233.6" y2="278.1"/><line x1="235.6" y1="264.9" x2="235.6" y2="269.1"/><line x1="237.5" y1="267.3" x2="237.5" y2="270.9"/><line x1="240.1" y1="270.1" x2="240.1" y2="275.2"/><line x1="241.8" y1="271.4" x2="241.8" y2="276.4"/><line x1="244.0" y1="268.4" x2="244.0" y2="272.2"/><line x1="246.0" y1="265.2" x2="246.0" y2="271.4"/><line x1="247.5" y1="274.3" x2="247.5" y2="279.2"/><line x1="248.9" y1="266.7" x2="248.9" y2="272.8"/><line x1="250.8" y1="273.6" x2="250.8" y2="278.1"/><line x1="252.3" y1="268.2" x2="252.3" y2="272.2"/><line x1="254.5" y1="269.0" x2="254.5" y2="272.7"/><line x1="212.0" y1="279.8" x2="212.0" y2="283.7"/><line x1="215.9" y1="279.8" x2="215.9" y2="283.7"/><line x1="225.0" y1="287.2" x2="225.0" y2="292.4"/><line x1="230.0" y1="280.8" x2="230.0" y2="284.6"/><line x1="237.8" y1="280.8" x2="237.8" y2="284.6"/><line x1="251.7" y1="280.8" x2="251.7" y2="284.6"/></g>
<path d="M57.0,252.2 L59.6,252.0 L62.1,251.9 L64.7,251.7 L67.2,251.6 L69.8,251.5 L72.3,251.4 L74.9,251.3 L77.4,251.3 L80.0,251.3 L82.5,251.3 L85.1,251.3 L87.6,251.4 L90.2,251.5 L92.7,251.6 L95.2,251.7 L97.8,251.8 L100.3,251.9 L102.8,252.1 L105.3,252.3 L107.9,252.5 L110.4,252.7 L112.9,252.9 L115.4,253.2 L118.0,253.4 L120.5,253.7 L123.0,254.0 L125.5,254.3 L128.0,254.6 L130.5,254.9 L133.0,255.3 L135.5,255.6 L138.1,256.0 L140.6,256.3 L143.1,256.7 L145.6,257.1 L148.1,257.5 L150.6,257.9 L153.1,258.3 L155.6,258.7 L158.1,259.1 L160.6,259.6 L163.1,260.0 L165.6,260.4 L168.1,260.9 L170.6,261.3 L173.1,261.8 L175.6,262.2 L178.1,262.7 L180.6,263.1 L183.1,263.6 L185.6,264.0 L188.1,264.5 L190.6,264.9 L193.1,265.4 L195.6,265.8 L198.1,266.3 L200.6,266.7 L203.1,267.1 L205.6,267.6 L208.1,268.0 L210.7,268.4 L213.2,268.9 L215.7,269.3 L218.2,269.7 L220.7,270.1 L223.2,270.5 L225.7,270.9 L228.2,271.2 L230.7,271.6 L233.2,272.0 L235.7,272.3 L238.3,272.6 L240.8,273.0 L243.3,273.3 L245.8,273.6 L248.3,273.9 L250.8,274.1 L253.4,274.4 L255.9,274.7" fill="none" stroke="#e84a4a" stroke-width="1.6" stroke-linecap="round" stroke-linejoin="round"/>
<circle cx="72.0" cy="252.4" r="1.2" fill="#d01a1a"/><circle cx="78.8" cy="252.2" r="1.2" fill="#d01a1a"/><circle cx="85.2" cy="252.8" r="1.2" fill="#d01a1a"/><circle cx="91.7" cy="254.2" r="1.2" fill="#d01a1a"/><circle cx="98.6" cy="253.4" r="1.2" fill="#d01a1a"/><circle cx="103.6" cy="252.5" r="1.2" fill="#d01a1a"/><circle cx="109.5" cy="252.6" r="1.2" fill="#d01a1a"/><circle cx="115.0" cy="252.9" r="1.2" fill="#d01a1a"/><circle cx="122.7" cy="253.7" r="1.2" fill="#d01a1a"/><circle cx="130.4" cy="254.1" r="1.2" fill="#d01a1a"/><circle cx="136.4" cy="255.3" r="1.2" fill="#d01a1a"/><circle cx="142.7" cy="255.8" r="1.2" fill="#d01a1a"/><circle cx="150.1" cy="261.9" r="1.2" fill="#d01a1a"/><circle cx="152.1" cy="255.4" r="1.2" fill="#d01a1a"/><circle cx="153.5" cy="253.6" r="1.2" fill="#d01a1a"/><circle cx="155.7" cy="258.7" r="1.2" fill="#d01a1a"/><circle cx="157.3" cy="260.1" r="1.2" fill="#d01a1a"/><circle cx="158.8" cy="261.4" r="1.2" fill="#d01a1a"/><circle cx="160.9" cy="257.4" r="1.2" fill="#d01a1a"/><circle cx="163.5" cy="260.0" r="1.2" fill="#d01a1a"/><circle cx="164.8" cy="264.9" r="1.2" fill="#d01a1a"/><circle cx="166.9" cy="261.4" r="1.2" fill="#d01a1a"/><circle cx="168.6" cy="260.9" r="1.2" fill="#d01a1a"/><circle cx="170.4" cy="260.7" r="1.2" fill="#d01a1a"/><circle cx="172.8" cy="261.7" r="1.2" fill="#d01a1a"/><circle cx="174.9" cy="263.3" r="1.2" fill="#d01a1a"/><circle cx="176.9" cy="260.0" r="1.2" fill="#d01a1a"/><circle cx="179.1" cy="259.3" r="1.2" fill="#d01a1a"/><circle cx="181.0" cy="263.4" r="1.2" fill="#d01a1a"/><circle cx="183.2" cy="264.0" r="1.2" fill="#d01a1a"/><circle cx="184.7" cy="261.9" r="1.2" fill="#d01a1a"/><circle cx="186.8" cy="267.5" r="1.2" fill="#d01a1a"/><circle cx="188.6" cy="266.2" r="1.2" fill="#d01a1a"/><circle cx="191.1" cy="260.2" r="1.2" fill="#d01a1a"/><circle cx="192.4" cy="262.2" r="1.2" fill="#d01a1a"/><circle cx="194.2" cy="266.7" r="1.2" fill="#d01a1a"/><circle cx="196.6" cy="267.8" r="1.2" fill="#d01a1a"/><circle cx="198.7" cy="261.0" r="1.2" fill="#d01a1a"/><circle cx="200.9" cy="268.3" r="1.2" fill="#d01a1a"/><circle cx="202.4" cy="264.0" r="1.2" fill="#d01a1a"/><circle cx="205.0" cy="270.5" r="1.2" fill="#d01a1a"/><circle cx="206.6" cy="267.4" r="1.2" fill="#d01a1a"/><circle cx="209.0" cy="267.7" r="1.2" fill="#d01a1a"/><circle cx="211.0" cy="269.4" r="1.2" fill="#d01a1a"/><circle cx="212.9" cy="273.2" r="1.2" fill="#d01a1a"/><circle cx="215.2" cy="270.1" r="1.2" fill="#d01a1a"/><circle cx="216.9" cy="269.9" r="1.2" fill="#d01a1a"/><circle cx="218.8" cy="268.6" r="1.2" fill="#d01a1a"/><circle cx="221.2" cy="268.0" r="1.2" fill="#d01a1a"/><circle cx="223.7" cy="265.1" r="1.2" fill="#d01a1a"/><circle cx="225.2" cy="268.7" r="1.2" fill="#d01a1a"/><circle cx="227.3" cy="270.7" r="1.2" fill="#d01a1a"/><circle cx="229.7" cy="269.4" r="1.2" fill="#d01a1a"/><circle cx="232.1" cy="270.9" r="1.2" fill="#d01a1a"/><circle cx="233.6" cy="275.6" r="1.2" fill="#d01a1a"/><circle cx="235.6" cy="267.0" r="1.2" fill="#d01a1a"/><circle cx="237.5" cy="269.1" r="1.2" fill="#d01a1a"/><circle cx="240.1" cy="272.6" r="1.2" fill="#d01a1a"/><circle cx="241.8" cy="273.9" r="1.2" fill="#d01a1a"/><circle cx="244.0" cy="270.3" r="1.2" fill="#d01a1a"/><circle cx="246.0" cy="268.3" r="1.2" fill="#d01a1a"/><circle cx="247.5" cy="276.8" r="1.2" fill="#d01a1a"/><circle cx="248.9" cy="269.8" r="1.2" fill="#d01a1a"/><circle cx="250.8" cy="275.8" r="1.2" fill="#d01a1a"/><circle cx="252.3" cy="270.2" r="1.2" fill="#d01a1a"/><circle cx="254.5" cy="270.8" r="1.2" fill="#d01a1a"/><circle cx="212.0" cy="281.7" r="1.2" fill="#d01a1a"/><circle cx="215.9" cy="281.7" r="1.2" fill="#d01a1a"/><circle cx="225.0" cy="289.5" r="1.2" fill="#d01a1a"/><circle cx="230.0" cy="282.7" r="1.2" fill="#d01a1a"/><circle cx="237.8" cy="282.7" r="1.2" fill="#d01a1a"/><circle cx="251.7" cy="282.7" r="1.2" fill="#d01a1a"/><circle cx="62.2" cy="261.4" r="1.2" fill="#d01a1a"/>
<path d="M56.7,297.6 L59.8,297.9 L62.8,298.2 L65.8,298.7 L68.8,299.2 L71.7,299.8 L74.6,300.5 L77.5,301.2 L80.3,302.0 L83.1,302.9 L85.9,303.8 L88.6,304.9 L91.3,305.9 L94.0,307.1 L96.6,308.3 L99.3,309.5 L101.9,310.8 L104.4,312.2 L106.9,313.6 L109.4,315.1 L111.9,316.6 L114.4,318.1 L116.8,319.8 L119.2,321.4 L121.5,323.1 L123.9,324.8 L126.2,326.6 L128.5,328.4 L130.7,330.3 L133.0,332.1 L135.2,334.0 L137.4,336.0 L139.6,337.9 L141.8,339.9 L144.0,341.8 L146.2,343.8 L148.3,345.8 L150.5,347.7 L152.7,349.7 L154.9,351.7 L157.1,353.6 L159.3,355.5 L161.5,357.4 L163.8,359.3 L166.0,361.2 L168.3,363.0 L170.6,364.8 L172.9,366.5 L175.3,368.3 L177.7,369.9 L180.0,371.6 L182.5,373.2 L184.9,374.8 L187.3,376.4 L189.8,378.0 L192.3,379.5 L194.8,381.0 L197.3,382.4 L199.9,383.9 L202.4,385.3 L205.0,386.7 L207.6,388.1 L210.2,389.4 L212.8,390.8 L215.4,392.1 L218.0,393.4 L220.7,394.6 L223.3,395.9 L226.0,397.1 L228.7,398.3 L231.3,399.5 L234.0,400.7 L236.7,401.9 L239.4,403.1 L242.1,404.2 L244.9,405.3 L247.6,406.5 L250.3,407.6 L253.0,408.7 L255.8,409.8" fill="none" stroke="#3a45d0" stroke-width="1.9" stroke-linecap="round" stroke-linejoin="round"/>
<circle cx="62.2" cy="304.0" r="1.3" fill="#1a1a9a"/><circle cx="72.8" cy="296.2" r="1.3" fill="#1a1a9a"/><circle cx="82.1" cy="307.9" r="1.3" fill="#1a1a9a"/><circle cx="90.8" cy="300.1" r="1.3" fill="#1a1a9a"/><circle cx="99.1" cy="318.1" r="1.3" fill="#1a1a9a"/><circle cx="106.8" cy="297.2" r="1.3" fill="#1a1a9a"/><circle cx="113.0" cy="297.2" r="1.3" fill="#1a1a9a"/><circle cx="118.8" cy="290.8" r="1.3" fill="#1a1a9a"/><circle cx="119.8" cy="304.4" r="1.3" fill="#1a1a9a"/><circle cx="124.6" cy="299.1" r="1.3" fill="#1a1a9a"/><circle cx="130.0" cy="312.7" r="1.3" fill="#1a1a9a"/><circle cx="130.0" cy="318.9" r="1.3" fill="#1a1a9a"/><circle cx="135.3" cy="310.4" r="1.3" fill="#1a1a9a"/><circle cx="140.1" cy="322.0" r="1.3" fill="#1a1a9a"/><circle cx="144.3" cy="312.7" r="1.3" fill="#1a1a9a"/><circle cx="148.8" cy="319.5" r="1.3" fill="#1a1a9a"/><circle cx="148.8" cy="323.3" r="1.3" fill="#1a1a9a"/><circle cx="152.7" cy="346.5" r="1.3" fill="#1a1a9a"/><circle cx="156.5" cy="319.5" r="1.3" fill="#1a1a9a"/><circle cx="156.5" cy="334.0" r="1.3" fill="#1a1a9a"/><circle cx="156.5" cy="319.5" r="1.3" fill="#1a1a9a"/><circle cx="156.9" cy="334.0" r="1.3" fill="#1a1a9a"/><circle cx="160.8" cy="344.6" r="1.3" fill="#1a1a9a"/><circle cx="164.3" cy="340.7" r="1.3" fill="#1a1a9a"/><circle cx="170.9" cy="310.8" r="1.3" fill="#1a1a9a"/><circle cx="170.5" cy="345.6" r="1.3" fill="#1a1a9a"/><circle cx="176.3" cy="338.8" r="1.3" fill="#1a1a9a"/><circle cx="180.1" cy="345.6" r="1.3" fill="#1a1a9a"/><circle cx="186.3" cy="330.1" r="1.3" fill="#1a1a9a"/><circle cx="188.8" cy="318.1" r="1.3" fill="#1a1a9a"/><circle cx="193.7" cy="345.6" r="1.3" fill="#1a1a9a"/><circle cx="201.4" cy="337.8" r="1.3" fill="#1a1a9a"/><circle cx="206.2" cy="345.6" r="1.3" fill="#1a1a9a"/><circle cx="211.5" cy="345.6" r="1.3" fill="#1a1a9a"/><circle cx="226.6" cy="330.1" r="1.3" fill="#1a1a9a"/><circle cx="230.0" cy="340.7" r="1.3" fill="#1a1a9a"/><circle cx="237.2" cy="342.7" r="1.3" fill="#1a1a9a"/><circle cx="160.4" cy="345.4" r="1.3" fill="#1a1a9a"/><circle cx="164.3" cy="341.0" r="1.3" fill="#1a1a9a"/><circle cx="163.1" cy="402.3" r="1.3" fill="#1a1a9a"/><circle cx="167.6" cy="396.1" r="1.3" fill="#1a1a9a"/><circle cx="170.5" cy="348.7" r="1.3" fill="#1a1a9a"/><circle cx="174.3" cy="352.0" r="1.3" fill="#1a1a9a"/><circle cx="177.2" cy="391.2" r="1.3" fill="#1a1a9a"/><circle cx="180.1" cy="346.2" r="1.3" fill="#1a1a9a"/><circle cx="182.1" cy="351.6" r="1.3" fill="#1a1a9a"/><circle cx="183.0" cy="405.4" r="1.3" fill="#1a1a9a"/><circle cx="191.7" cy="375.8" r="1.3" fill="#1a1a9a"/><circle cx="193.7" cy="352.0" r="1.3" fill="#1a1a9a"/><circle cx="196.6" cy="369.0" r="1.3" fill="#1a1a9a"/><circle cx="197.5" cy="360.3" r="1.3" fill="#1a1a9a"/><circle cx="197.9" cy="372.9" r="1.3" fill="#1a1a9a"/><circle cx="201.4" cy="348.7" r="1.3" fill="#1a1a9a"/><circle cx="201.0" cy="352.6" r="1.3" fill="#1a1a9a"/><circle cx="203.3" cy="409.2" r="1.3" fill="#1a1a9a"/><circle cx="206.2" cy="345.4" r="1.3" fill="#1a1a9a"/><circle cx="205.7" cy="386.4" r="1.3" fill="#1a1a9a"/><circle cx="210.1" cy="386.0" r="1.3" fill="#1a1a9a"/><circle cx="210.7" cy="423.2" r="1.3" fill="#1a1a9a"/><circle cx="212.0" cy="346.2" r="1.3" fill="#1a1a9a"/><circle cx="214.0" cy="398.0" r="1.3" fill="#1a1a9a"/><circle cx="214.9" cy="353.2" r="1.3" fill="#1a1a9a"/><circle cx="215.9" cy="360.9" r="1.3" fill="#1a1a9a"/><circle cx="217.9" cy="402.9" r="1.3" fill="#1a1a9a"/><circle cx="219.8" cy="357.0" r="1.3" fill="#1a1a9a"/><circle cx="221.7" cy="374.4" r="1.3" fill="#1a1a9a"/><circle cx="222.7" cy="406.7" r="1.3" fill="#1a1a9a"/><circle cx="225.6" cy="363.2" r="1.3" fill="#1a1a9a"/><circle cx="228.5" cy="410.6" r="1.3" fill="#1a1a9a"/><circle cx="228.5" cy="368.0" r="1.3" fill="#1a1a9a"/><circle cx="230.0" cy="341.0" r="1.3" fill="#1a1a9a"/><circle cx="232.0" cy="417.4" r="1.3" fill="#1a1a9a"/><circle cx="232.0" cy="427.0" r="1.3" fill="#1a1a9a"/><circle cx="234.3" cy="364.2" r="1.3" fill="#1a1a9a"/><circle cx="233.3" cy="441.1" r="1.3" fill="#1a1a9a"/><circle cx="235.3" cy="405.4" r="1.3" fill="#1a1a9a"/><circle cx="236.2" cy="346.8" r="1.3" fill="#1a1a9a"/><circle cx="237.2" cy="399.9" r="1.3" fill="#1a1a9a"/><circle cx="238.2" cy="341.9" r="1.3" fill="#1a1a9a"/><circle cx="241.1" cy="373.3" r="1.3" fill="#1a1a9a"/><circle cx="106.6" cy="297.7" r="1.3" fill="#1a1a9a"/><circle cx="112.8" cy="297.7" r="1.3" fill="#1a1a9a"/><circle cx="118.8" cy="291.1" r="1.3" fill="#1a1a9a"/><circle cx="119.9" cy="304.4" r="1.3" fill="#1a1a9a"/><circle cx="124.8" cy="299.3" r="1.3" fill="#1a1a9a"/><circle cx="129.8" cy="312.8" r="1.3" fill="#1a1a9a"/><circle cx="129.8" cy="318.7" r="1.3" fill="#1a1a9a"/><circle cx="135.4" cy="311.0" r="1.3" fill="#1a1a9a"/><circle cx="139.8" cy="322.0" r="1.3" fill="#1a1a9a"/><circle cx="144.9" cy="312.1" r="1.3" fill="#1a1a9a"/><circle cx="148.6" cy="318.7" r="1.3" fill="#1a1a9a"/><circle cx="149.1" cy="323.6" r="1.3" fill="#1a1a9a"/><circle cx="153.0" cy="347.5" r="1.3" fill="#1a1a9a"/><circle cx="156.4" cy="318.7" r="1.3" fill="#1a1a9a"/><circle cx="157.0" cy="333.8" r="1.3" fill="#1a1a9a"/><circle cx="160.8" cy="345.2" r="1.3" fill="#1a1a9a"/><circle cx="164.1" cy="340.8" r="1.3" fill="#1a1a9a"/><circle cx="170.3" cy="311.0" r="1.3" fill="#1a1a9a"/><circle cx="170.7" cy="348.6" r="1.3" fill="#1a1a9a"/><circle cx="176.2" cy="338.6" r="1.3" fill="#1a1a9a"/><circle cx="176.9" cy="391.7" r="1.3" fill="#1a1a9a"/><circle cx="180.7" cy="346.4" r="1.3" fill="#1a1a9a"/><circle cx="181.8" cy="351.9" r="1.3" fill="#1a1a9a"/><circle cx="186.2" cy="329.8" r="1.3" fill="#1a1a9a"/><circle cx="188.4" cy="318.7" r="1.3" fill="#1a1a9a"/><circle cx="188.4" cy="333.1" r="1.3" fill="#1a1a9a"/><circle cx="192.8" cy="351.9" r="1.3" fill="#1a1a9a"/><circle cx="191.7" cy="376.2" r="1.3" fill="#1a1a9a"/><circle cx="197.2" cy="361.8" r="1.3" fill="#1a1a9a"/><circle cx="197.2" cy="368.5" r="1.3" fill="#1a1a9a"/><circle cx="201.7" cy="348.6" r="1.3" fill="#1a1a9a"/><circle cx="201.2" cy="353.0" r="1.3" fill="#1a1a9a"/><circle cx="205.0" cy="386.1" r="1.3" fill="#1a1a9a"/><circle cx="207.2" cy="345.2" r="1.3" fill="#1a1a9a"/><circle cx="211.6" cy="346.4" r="1.3" fill="#1a1a9a"/><circle cx="214.9" cy="353.0" r="1.3" fill="#1a1a9a"/><circle cx="216.0" cy="366.2" r="1.3" fill="#1a1a9a"/><circle cx="139.7" cy="353.5" r="1.3" fill="#1a1a9a"/><circle cx="153.2" cy="347.3" r="1.3" fill="#1a1a9a"/><circle cx="157.5" cy="340.0" r="1.3" fill="#1a1a9a"/>
<rect x="64.3" y="399" width="79.3" height="37.7" fill="#fff" stroke="#666" stroke-width="0.8"/>
<circle cx="73.39999999999999" cy="407.3" r="2" fill="#1a1a9a"/>
<line x1="67.89999999999999" y1="415.0" x2="78.39999999999999" y2="415.0" stroke="#3a45d0" stroke-width="1.2"/>
<circle cx="73.39999999999999" cy="424.7" r="2" fill="#c01a2a"/>
<line x1="67.89999999999999" y1="432.4" x2="78.39999999999999" y2="432.4" stroke="#e8605a" stroke-width="1.2"/>
<text x="83.6" y="409.7" font-size="6.8" fill="#333">JHUs M<tspan dy="1.3" font-size="4.62">PARL</tspan><tspan dy="-5" font-size="4.90"> 2</tspan><tspan dy="3.7"> Data</tspan></text>
<text x="83.6" y="417.4" font-size="6.8" fill="#333">Fit</text>
<text x="83.6" y="427.1" font-size="6.8" fill="#333">JHUs M<tspan dy="1.3" font-size="4.62">PERP</tspan><tspan dy="-5" font-size="4.90"> 2</tspan><tspan dy="3.7"> Data</tspan></text>
<text x="83.6" y="434.8" font-size="6.8" fill="#333">Fit</text>
<text transform="translate(237.5,266.7) scale(0.9,1)" font-size="21.4" fill="#000">B</text>
<g stroke="#efeffa" stroke-width="0.7"><line x1="70.5" y1="488.5" x2="70.5" y2="673.8"/><line x1="83.1" y1="488.5" x2="83.1" y2="673.8"/><line x1="94.2" y1="488.5" x2="94.2" y2="673.8"/><line x1="104.1" y1="488.5" x2="104.1" y2="673.8"/><line x1="169.4" y1="488.5" x2="169.4" y2="673.8"/><line x1="207.6" y1="488.5" x2="207.6" y2="673.8"/><line x1="234.7" y1="488.5" x2="234.7" y2="673.8"/><line x1="56" y1="501.6" x2="255.7" y2="501.6"/><line x1="56" y1="488.6" x2="255.7" y2="488.6"/><line x1="56" y1="544.6" x2="255.7" y2="544.6"/><line x1="56" y1="531.7" x2="255.7" y2="531.7"/><line x1="56" y1="524.1" x2="255.7" y2="524.1"/><line x1="56" y1="518.7" x2="255.7" y2="518.7"/><line x1="56" y1="514.6" x2="255.7" y2="514.6"/><line x1="56" y1="511.2" x2="255.7" y2="511.2"/><line x1="56" y1="508.3" x2="255.7" y2="508.3"/><line x1="56" y1="505.8" x2="255.7" y2="505.8"/><line x1="56" y1="503.6" x2="255.7" y2="503.6"/><line x1="56" y1="587.7" x2="255.7" y2="587.7"/><line x1="56" y1="574.7" x2="255.7" y2="574.7"/><line x1="56" y1="567.2" x2="255.7" y2="567.2"/><line x1="56" y1="561.8" x2="255.7" y2="561.8"/><line x1="56" y1="557.6" x2="255.7" y2="557.6"/><line x1="56" y1="554.2" x2="255.7" y2="554.2"/><line x1="56" y1="551.3" x2="255.7" y2="551.3"/><line x1="56" y1="548.8" x2="255.7" y2="548.8"/><line x1="56" y1="546.6" x2="255.7" y2="546.6"/><line x1="56" y1="630.8" x2="255.7" y2="630.8"/><line x1="56" y1="617.8" x2="255.7" y2="617.8"/><line x1="56" y1="610.2" x2="255.7" y2="610.2"/><line x1="56" y1="604.8" x2="255.7" y2="604.8"/><line x1="56" y1="600.7" x2="255.7" y2="600.7"/><line x1="56" y1="597.3" x2="255.7" y2="597.3"/><line x1="56" y1="594.4" x2="255.7" y2="594.4"/><line x1="56" y1="591.9" x2="255.7" y2="591.9"/><line x1="56" y1="589.7" x2="255.7" y2="589.7"/><line x1="56" y1="660.8" x2="255.7" y2="660.8"/><line x1="56" y1="653.3" x2="255.7" y2="653.3"/><line x1="56" y1="647.9" x2="255.7" y2="647.9"/><line x1="56" y1="643.7" x2="255.7" y2="643.7"/><line x1="56" y1="640.3" x2="255.7" y2="640.3"/><line x1="56" y1="637.4" x2="255.7" y2="637.4"/><line x1="56" y1="634.9" x2="255.7" y2="634.9"/><line x1="56" y1="632.7" x2="255.7" y2="632.7"/></g>
<rect x="56" y="488.5" width="199.7" height="185.29999999999995" fill="none" stroke="#a0a0a0" stroke-width="1.7"/>
<g stroke="#777" stroke-width="0.8"><line x1="52" y1="501.6" x2="56" y2="501.6"/><line x1="54" y1="488.6" x2="56" y2="488.6"/><line x1="52" y1="544.6" x2="56" y2="544.6"/><line x1="54" y1="531.7" x2="56" y2="531.7"/><line x1="54" y1="524.1" x2="56" y2="524.1"/><line x1="54" y1="518.7" x2="56" y2="518.7"/><line x1="54" y1="514.6" x2="56" y2="514.6"/><line x1="54" y1="511.2" x2="56" y2="511.2"/><line x1="54" y1="508.3" x2="56" y2="508.3"/><line x1="54" y1="505.8" x2="56" y2="505.8"/><line x1="54" y1="503.6" x2="56" y2="503.6"/><line x1="52" y1="587.7" x2="56" y2="587.7"/><line x1="54" y1="574.7" x2="56" y2="574.7"/><line x1="54" y1="567.2" x2="56" y2="567.2"/><line x1="54" y1="561.8" x2="56" y2="561.8"/><line x1="54" y1="557.6" x2="56" y2="557.6"/><line x1="54" y1="554.2" x2="56" y2="554.2"/><line x1="54" y1="551.3" x2="56" y2="551.3"/><line x1="54" y1="548.8" x2="56" y2="548.8"/><line x1="54" y1="546.6" x2="56" y2="546.6"/><line x1="52" y1="630.8" x2="56" y2="630.8"/><line x1="54" y1="617.8" x2="56" y2="617.8"/><line x1="54" y1="610.2" x2="56" y2="610.2"/><line x1="54" y1="604.8" x2="56" y2="604.8"/><line x1="54" y1="600.7" x2="56" y2="600.7"/><line x1="54" y1="597.3" x2="56" y2="597.3"/><line x1="54" y1="594.4" x2="56" y2="594.4"/><line x1="54" y1="591.9" x2="56" y2="591.9"/><line x1="54" y1="589.7" x2="56" y2="589.7"/><line x1="52" y1="673.8" x2="56" y2="673.8"/><line x1="54" y1="660.8" x2="56" y2="660.8"/><line x1="54" y1="653.3" x2="56" y2="653.3"/><line x1="54" y1="647.9" x2="56" y2="647.9"/><line x1="54" y1="643.7" x2="56" y2="643.7"/><line x1="54" y1="640.3" x2="56" y2="640.3"/><line x1="54" y1="637.4" x2="56" y2="637.4"/><line x1="54" y1="634.9" x2="56" y2="634.9"/><line x1="54" y1="632.7" x2="56" y2="632.7"/><line x1="70.5" y1="673.8" x2="70.5" y2="676.3"/><line x1="83.1" y1="673.8" x2="83.1" y2="676.3"/><line x1="94.2" y1="673.8" x2="94.2" y2="676.3"/><line x1="104.1" y1="673.8" x2="104.1" y2="676.3"/><line x1="169.4" y1="673.8" x2="169.4" y2="676.3"/><line x1="207.6" y1="673.8" x2="207.6" y2="676.3"/><line x1="234.7" y1="673.8" x2="234.7" y2="676.3"/></g>
<g transform="translate(47.5,505.6) scale(1.08,1)"><text x="0" y="0" font-size="7.6" fill="#222" text-anchor="end">10<tspan dx="0.4" dy="-4.6" font-size="5.8">-1</tspan></text></g>
<g transform="translate(47.5,548.6) scale(1.08,1)"><text x="0" y="0" font-size="7.6" fill="#222" text-anchor="end">10<tspan dx="0.4" dy="-4.6" font-size="5.8">-2</tspan></text></g>
<g transform="translate(47.5,591.7) scale(1.08,1)"><text x="0" y="0" font-size="7.6" fill="#222" text-anchor="end">10<tspan dx="0.4" dy="-4.6" font-size="5.8">-3</tspan></text></g>
<g transform="translate(47.5,634.8) scale(1.08,1)"><text x="0" y="0" font-size="7.6" fill="#222" text-anchor="end">10<tspan dx="0.4" dy="-4.6" font-size="5.8">-4</tspan></text></g>
<g transform="translate(47.5,677.8) scale(1.08,1)"><text x="0" y="0" font-size="7.6" fill="#222" text-anchor="end">10<tspan dx="0.4" dy="-4.6" font-size="5.8">-5</tspan></text></g>
<text x="56.0" y="681.8" font-size="5.5" fill="#444" text-anchor="middle">6</text>
<text x="70.5" y="681.8" font-size="5.5" fill="#444" text-anchor="middle">7</text>
<text x="83.1" y="681.8" font-size="5.5" fill="#444" text-anchor="middle">8</text>
<text x="94.2" y="681.8" font-size="5.5" fill="#444" text-anchor="middle">9</text>
<text x="169.4" y="681.8" font-size="5.5" fill="#444" text-anchor="middle">2</text>
<text x="207.6" y="681.8" font-size="5.5" fill="#444" text-anchor="middle">3</text>
<text x="234.7" y="681.8" font-size="5.5" fill="#444" text-anchor="middle">4</text>
<text x="255.7" y="681.8" font-size="5.5" fill="#444" text-anchor="middle">5</text>
<text x="104.1" y="689.3" font-size="8.5" fill="#333" text-anchor="middle">0.01</text>
<text transform="translate(15,579) rotate(-90)" font-size="8.5" fill="#333" text-anchor="middle">I (cm<tspan dy="-3.5" font-size="5.5">-1</tspan><tspan dy="3.5">)</tspan></text>
<text x="155.85" y="702" font-size="8.5" fill="#333" text-anchor="middle">Q (A<tspan dy="-4.5" font-size="5.5">-1</tspan><tspan dy="4.5">)</tspan></text>
<g stroke="#8888e4" stroke-width="1.4" opacity="1.0"><line x1="61.8" y1="550.8" x2="61.8" y2="590.0"/><line x1="73.4" y1="566.2" x2="73.4" y2="590.0"/><line x1="93.7" y1="556.6" x2="93.7" y2="585.6"/><line x1="102.0" y1="564.3" x2="102.0" y2="590.0"/><line x1="117.3" y1="570.1" x2="117.3" y2="590.0"/><line x1="136.2" y1="567.2" x2="136.2" y2="590.0"/><line x1="146.9" y1="574.0" x2="146.9" y2="590.0"/><line x1="73.4" y1="580.0" x2="73.4" y2="632.2"/><line x1="84.0" y1="582.9" x2="84.0" y2="632.2"/><line x1="116.9" y1="580.0" x2="116.9" y2="611.9"/><line x1="141.4" y1="594.5" x2="141.4" y2="669.0"/><line x1="146.9" y1="580.0" x2="146.9" y2="603.2"/><line x1="151.7" y1="587.7" x2="151.7" y2="669.0"/><line x1="156.5" y1="580.0" x2="156.5" y2="669.0"/><line x1="61.8" y1="580.0" x2="61.8" y2="632.2"/><line x1="93.7" y1="580.0" x2="93.7" y2="585.8"/><line x1="123.7" y1="616.7" x2="123.7" y2="669.0"/><line x1="130.4" y1="625.4" x2="130.4" y2="669.0"/><line x1="156.5" y1="580.0" x2="156.5" y2="673.8"/><line x1="160.8" y1="614.8" x2="160.8" y2="673.8"/><line x1="169.5" y1="580.0" x2="169.5" y2="601.3"/><line x1="173.4" y1="599.3" x2="173.4" y2="673.8"/><line x1="176.9" y1="588.7" x2="176.9" y2="622.5"/><line x1="184.0" y1="607.1" x2="184.0" y2="673.8"/><line x1="187.5" y1="587.7" x2="187.5" y2="614.8"/><line x1="190.8" y1="585.8" x2="190.8" y2="605.1"/><line x1="203.0" y1="608.0" x2="203.0" y2="673.8"/><line x1="205.7" y1="638.0" x2="205.7" y2="673.8"/><line x1="208.2" y1="580.0" x2="208.2" y2="595.5"/><line x1="211.1" y1="583.9" x2="211.1" y2="607.1"/><line x1="215.9" y1="623.5" x2="215.9" y2="673.8"/><line x1="220.8" y1="630.3" x2="220.8" y2="673.8"/><line x1="222.7" y1="613.8" x2="222.7" y2="673.8"/><line x1="227.5" y1="630.3" x2="227.5" y2="673.8"/><line x1="229.5" y1="587.7" x2="229.5" y2="628.3"/><line x1="232.0" y1="610.9" x2="232.0" y2="673.8"/><line x1="233.7" y1="595.5" x2="233.7" y2="638.0"/><line x1="237.8" y1="632.2" x2="237.8" y2="673.8"/><line x1="239.7" y1="612.9" x2="239.7" y2="673.8"/><line x1="241.1" y1="595.5" x2="241.1" y2="634.1"/><line x1="243.6" y1="591.6" x2="243.6" y2="630.3"/><line x1="244.9" y1="626.4" x2="244.9" y2="673.8"/><line x1="246.9" y1="599.3" x2="246.9" y2="624.5"/><line x1="250.1" y1="641.9" x2="250.1" y2="673.8"/><line x1="253.6" y1="591.6" x2="253.6" y2="673.8"/><line x1="255.0" y1="587.7" x2="255.0" y2="673.8"/><line x1="165.1" y1="564.3" x2="165.1" y2="587.5"/><line x1="169.5" y1="574.0" x2="169.5" y2="590.0"/><line x1="180.7" y1="562.4" x2="180.7" y2="574.9"/><line x1="208.2" y1="577.8" x2="208.2" y2="590.0"/><line x1="211.1" y1="581.7" x2="211.1" y2="590.0"/></g>
<g stroke="#e07a7a" stroke-width="1.1" opacity="1.0"><line x1="61.8" y1="505.5" x2="61.8" y2="507.8"/><line x1="73.4" y1="504.1" x2="73.4" y2="506.5"/><line x1="84.0" y1="502.2" x2="84.0" y2="504.5"/><line x1="93.7" y1="505.9" x2="93.7" y2="508.6"/><line x1="102.0" y1="507.2" x2="102.0" y2="509.9"/><line x1="109.7" y1="508.8" x2="109.7" y2="511.5"/><line x1="117.3" y1="510.1" x2="117.3" y2="513.2"/><line x1="124.0" y1="507.8" x2="124.0" y2="510.5"/><line x1="130.4" y1="509.8" x2="130.4" y2="512.5"/><line x1="136.2" y1="510.3" x2="136.2" y2="513.0"/><line x1="141.6" y1="510.7" x2="141.6" y2="513.4"/><line x1="146.9" y1="509.8" x2="146.9" y2="512.5"/><line x1="151.7" y1="513.0" x2="151.7" y2="515.7"/><line x1="156.5" y1="517.5" x2="156.5" y2="521.4"/><line x1="156.5" y1="516.9" x2="156.5" y2="522.1"/><line x1="160.8" y1="511.7" x2="160.8" y2="514.4"/><line x1="165.1" y1="518.3" x2="165.1" y2="522.1"/><line x1="169.5" y1="522.7" x2="169.5" y2="529.1"/><line x1="173.4" y1="519.0" x2="173.4" y2="522.5"/><line x1="176.9" y1="521.0" x2="176.9" y2="524.5"/><line x1="180.5" y1="523.3" x2="180.5" y2="527.2"/><line x1="184.0" y1="524.1" x2="184.0" y2="527.9"/><line x1="187.5" y1="523.7" x2="187.5" y2="527.5"/><line x1="190.8" y1="522.7" x2="190.8" y2="526.6"/><line x1="193.7" y1="525.6" x2="193.7" y2="529.5"/><line x1="196.6" y1="527.9" x2="196.6" y2="531.8"/><line x1="200.1" y1="523.7" x2="200.1" y2="528.3"/><line x1="203.0" y1="546.9" x2="203.0" y2="561.4"/><line x1="205.7" y1="533.7" x2="205.7" y2="538.8"/><line x1="208.2" y1="531.4" x2="208.2" y2="538.2"/><line x1="211.1" y1="537.6" x2="211.1" y2="542.6"/><line x1="213.4" y1="538.6" x2="213.4" y2="543.6"/><line x1="215.9" y1="539.0" x2="215.9" y2="544.0"/><line x1="218.4" y1="545.9" x2="218.4" y2="560.4"/><line x1="220.8" y1="556.6" x2="220.8" y2="574.9"/><line x1="223.1" y1="541.1" x2="223.1" y2="550.8"/><line x1="225.0" y1="540.1" x2="225.0" y2="547.9"/><line x1="227.5" y1="548.8" x2="227.5" y2="559.5"/><line x1="229.5" y1="558.5" x2="229.5" y2="581.7"/><line x1="232.0" y1="548.8" x2="232.0" y2="561.4"/><line x1="233.3" y1="575.9" x2="233.3" y2="590.0"/><line x1="235.8" y1="558.5" x2="235.8" y2="575.9"/><line x1="238.2" y1="562.4" x2="238.2" y2="581.7"/><line x1="241.1" y1="572.0" x2="241.1" y2="583.6"/><line x1="244.9" y1="554.6" x2="244.9" y2="568.2"/><line x1="247.8" y1="575.9" x2="247.8" y2="587.5"/><line x1="250.1" y1="562.4" x2="250.1" y2="575.9"/><line x1="251.7" y1="579.8" x2="251.7" y2="590.0"/><line x1="233.7" y1="580.0" x2="233.7" y2="587.7"/><line x1="239.5" y1="603.2" x2="239.5" y2="613.8"/><line x1="248.8" y1="580.0" x2="248.8" y2="585.8"/><line x1="251.7" y1="581.9" x2="251.7" y2="591.6"/></g>
<line x1="255.2" y1="591" x2="255.2" y2="673" stroke="#e09090" stroke-width="2.2"/>
<path d="M57.1,504.7 L59.9,504.9 L62.7,505.2 L65.6,505.4 L68.4,505.6 L71.3,505.9 L74.2,506.1 L77.1,506.3 L80.0,506.5 L82.9,506.7 L85.8,506.9 L88.7,507.1 L91.7,507.4 L94.6,507.6 L97.6,507.8 L100.5,508.0 L103.5,508.3 L106.4,508.5 L109.4,508.8 L112.3,509.1 L115.3,509.4 L118.2,509.7 L121.2,510.0 L124.1,510.4 L127.1,510.7 L130.0,511.1 L133.0,511.5 L135.9,512.0 L138.8,512.4 L141.7,512.9 L144.6,513.5 L147.5,514.0 L150.4,514.6 L153.3,515.2 L156.2,515.9 L159.0,516.6 L161.8,517.3 L164.7,518.1 L167.5,518.9 L170.2,519.8 L173.0,520.7 L175.8,521.6 L178.5,522.6 L181.2,523.6 L183.9,524.7 L186.5,525.9 L189.2,527.0 L191.8,528.3 L194.4,529.6 L197.0,531.0 L199.5,532.4 L202.0,533.9 L204.5,535.4 L206.9,537.0 L209.3,538.6 L211.7,540.4 L214.0,542.2 L216.2,544.0 L218.4,545.9 L220.6,547.9 L222.6,550.0 L224.7,552.1 L226.7,554.3 L228.6,556.5 L230.5,558.8 L232.3,561.1 L234.2,563.4 L236.0,565.8 L237.7,568.2 L239.5,570.6 L241.2,573.0 L242.9,575.4 L244.5,577.9 L246.2,580.3 L247.8,582.7 L249.4,585.2 L251.0,587.6 L252.6,590.0 L254.2,592.4 L255.8,594.8" fill="none" stroke="#e84a4a" stroke-width="1.6" stroke-linecap="round" stroke-linejoin="round"/>
<circle cx="61.8" cy="506.7" r="1.2" fill="#d01a1a"/><circle cx="73.4" cy="505.3" r="1.2" fill="#d01a1a"/><circle cx="84.0" cy="503.4" r="1.2" fill="#d01a1a"/><circle cx="93.7" cy="507.2" r="1.2" fill="#d01a1a"/><circle cx="102.0" cy="508.6" r="1.2" fill="#d01a1a"/><circle cx="109.7" cy="510.1" r="1.2" fill="#d01a1a"/><circle cx="117.3" cy="511.7" r="1.2" fill="#d01a1a"/><circle cx="124.0" cy="509.2" r="1.2" fill="#d01a1a"/><circle cx="130.4" cy="511.1" r="1.2" fill="#d01a1a"/><circle cx="136.2" cy="511.7" r="1.2" fill="#d01a1a"/><circle cx="141.6" cy="512.1" r="1.2" fill="#d01a1a"/><circle cx="146.9" cy="511.1" r="1.2" fill="#d01a1a"/><circle cx="151.7" cy="514.4" r="1.2" fill="#d01a1a"/><circle cx="156.5" cy="519.4" r="1.2" fill="#d01a1a"/><circle cx="156.5" cy="519.4" r="1.2" fill="#d01a1a"/><circle cx="160.8" cy="513.0" r="1.2" fill="#d01a1a"/><circle cx="165.1" cy="520.2" r="1.2" fill="#d01a1a"/><circle cx="169.5" cy="525.6" r="1.2" fill="#d01a1a"/><circle cx="173.4" cy="520.8" r="1.2" fill="#d01a1a"/><circle cx="176.9" cy="522.7" r="1.2" fill="#d01a1a"/><circle cx="180.5" cy="525.2" r="1.2" fill="#d01a1a"/><circle cx="184.0" cy="526.0" r="1.2" fill="#d01a1a"/><circle cx="187.5" cy="525.6" r="1.2" fill="#d01a1a"/><circle cx="190.8" cy="524.6" r="1.2" fill="#d01a1a"/><circle cx="193.7" cy="527.5" r="1.2" fill="#d01a1a"/><circle cx="196.6" cy="529.9" r="1.2" fill="#d01a1a"/><circle cx="200.1" cy="526.0" r="1.2" fill="#d01a1a"/><circle cx="203.0" cy="552.7" r="1.2" fill="#d01a1a"/><circle cx="205.7" cy="536.2" r="1.2" fill="#d01a1a"/><circle cx="208.2" cy="534.9" r="1.2" fill="#d01a1a"/><circle cx="211.1" cy="540.1" r="1.2" fill="#d01a1a"/><circle cx="213.4" cy="541.1" r="1.2" fill="#d01a1a"/><circle cx="215.9" cy="541.5" r="1.2" fill="#d01a1a"/><circle cx="218.4" cy="551.7" r="1.2" fill="#d01a1a"/><circle cx="220.8" cy="562.4" r="1.2" fill="#d01a1a"/><circle cx="223.1" cy="545.9" r="1.2" fill="#d01a1a"/><circle cx="225.0" cy="544.0" r="1.2" fill="#d01a1a"/><circle cx="227.5" cy="553.7" r="1.2" fill="#d01a1a"/><circle cx="229.5" cy="567.2" r="1.2" fill="#d01a1a"/><circle cx="232.0" cy="554.6" r="1.2" fill="#d01a1a"/><circle cx="233.3" cy="583.6" r="1.2" fill="#d01a1a"/><circle cx="235.8" cy="566.2" r="1.2" fill="#d01a1a"/><circle cx="238.2" cy="571.1" r="1.2" fill="#d01a1a"/><circle cx="241.1" cy="577.8" r="1.2" fill="#d01a1a"/><circle cx="244.9" cy="561.4" r="1.2" fill="#d01a1a"/><circle cx="247.8" cy="581.7" r="1.2" fill="#d01a1a"/><circle cx="250.1" cy="569.1" r="1.2" fill="#d01a1a"/><circle cx="251.7" cy="586.5" r="1.2" fill="#d01a1a"/><circle cx="233.7" cy="582.9" r="1.2" fill="#d01a1a"/><circle cx="239.5" cy="609.0" r="1.2" fill="#d01a1a"/><circle cx="248.8" cy="581.0" r="1.2" fill="#d01a1a"/><circle cx="251.7" cy="586.8" r="1.2" fill="#d01a1a"/>
<path d="M56.7,575.5 L59.4,575.6 L62.2,575.6 L64.9,575.7 L67.7,575.8 L70.4,575.9 L73.2,576.1 L75.9,576.3 L78.6,576.5 L81.3,576.8 L84.0,577.1 L86.7,577.4 L89.4,577.7 L92.1,578.1 L94.8,578.5 L97.5,578.9 L100.1,579.4 L102.8,579.9 L105.4,580.4 L108.1,581.0 L110.7,581.6 L113.3,582.2 L115.9,582.9 L118.5,583.6 L121.1,584.3 L123.6,585.1 L126.2,585.9 L128.7,586.8 L131.2,587.6 L133.8,588.6 L136.3,589.5 L138.8,590.5 L141.2,591.5 L143.7,592.6 L146.1,593.7 L148.6,594.8 L151.0,596.0 L153.4,597.2 L155.8,598.4 L158.2,599.7 L160.5,601.0 L162.9,602.4 L165.2,603.8 L167.5,605.2 L169.9,606.6 L172.2,608.0 L174.5,609.5 L176.8,610.9 L179.1,612.4 L181.4,613.9 L183.7,615.3 L185.9,616.8 L188.2,618.3 L190.5,619.7 L192.8,621.1 L195.1,622.6 L197.5,623.9 L199.8,625.3 L202.1,626.7 L204.5,628.0 L206.8,629.2 L209.2,630.5 L211.6,631.7 L214.0,632.8 L216.4,633.9 L218.8,635.0 L221.3,636.0 L223.7,636.9 L226.2,637.8 L228.8,638.6 L231.3,639.3 L233.9,640.0 L236.5,640.6 L239.1,641.1 L241.7,641.5 L244.4,641.9 L247.2,642.1 L249.9,642.3 L252.7,642.4 L255.5,642.3" fill="none" stroke="#3a45d0" stroke-width="1.9" stroke-linecap="round" stroke-linejoin="round"/>
<circle cx="61.8" cy="563.9" r="1.3" fill="#1a1a9a"/><circle cx="73.4" cy="590.0" r="1.3" fill="#1a1a9a"/><circle cx="93.7" cy="565.8" r="1.3" fill="#1a1a9a"/><circle cx="102.0" cy="580.3" r="1.3" fill="#1a1a9a"/><circle cx="117.3" cy="580.7" r="1.3" fill="#1a1a9a"/><circle cx="136.2" cy="575.9" r="1.3" fill="#1a1a9a"/><circle cx="146.9" cy="583.6" r="1.3" fill="#1a1a9a"/><circle cx="73.4" cy="589.7" r="1.3" fill="#1a1a9a"/><circle cx="84.0" cy="598.8" r="1.3" fill="#1a1a9a"/><circle cx="116.9" cy="581.0" r="1.3" fill="#1a1a9a"/><circle cx="141.4" cy="609.0" r="1.3" fill="#1a1a9a"/><circle cx="146.9" cy="583.5" r="1.3" fill="#1a1a9a"/><circle cx="151.7" cy="602.6" r="1.3" fill="#1a1a9a"/><circle cx="156.5" cy="596.4" r="1.3" fill="#1a1a9a"/><circle cx="61.8" cy="638.0" r="1.3" fill="#1a1a9a"/><circle cx="93.7" cy="583.9" r="1.3" fill="#1a1a9a"/><circle cx="123.7" cy="628.3" r="1.3" fill="#1a1a9a"/><circle cx="130.4" cy="638.0" r="1.3" fill="#1a1a9a"/><circle cx="156.5" cy="595.9" r="1.3" fill="#1a1a9a"/><circle cx="160.8" cy="641.9" r="1.3" fill="#1a1a9a"/><circle cx="169.5" cy="582.3" r="1.3" fill="#1a1a9a"/><circle cx="173.4" cy="613.8" r="1.3" fill="#1a1a9a"/><circle cx="176.9" cy="599.0" r="1.3" fill="#1a1a9a"/><circle cx="184.0" cy="621.6" r="1.3" fill="#1a1a9a"/><circle cx="187.5" cy="596.4" r="1.3" fill="#1a1a9a"/><circle cx="190.8" cy="593.2" r="1.3" fill="#1a1a9a"/><circle cx="203.0" cy="622.9" r="1.3" fill="#1a1a9a"/><circle cx="205.7" cy="673.8" r="1.3" fill="#1a1a9a"/><circle cx="208.2" cy="583.5" r="1.3" fill="#1a1a9a"/><circle cx="211.1" cy="589.7" r="1.3" fill="#1a1a9a"/><circle cx="215.9" cy="644.2" r="1.3" fill="#1a1a9a"/><circle cx="220.8" cy="654.5" r="1.3" fill="#1a1a9a"/><circle cx="222.7" cy="628.7" r="1.3" fill="#1a1a9a"/><circle cx="227.5" cy="654.5" r="1.3" fill="#1a1a9a"/><circle cx="229.5" cy="599.0" r="1.3" fill="#1a1a9a"/><circle cx="232.0" cy="622.9" r="1.3" fill="#1a1a9a"/><circle cx="233.7" cy="607.5" r="1.3" fill="#1a1a9a"/><circle cx="237.8" cy="663.5" r="1.3" fill="#1a1a9a"/><circle cx="239.7" cy="628.0" r="1.3" fill="#1a1a9a"/><circle cx="241.1" cy="605.5" r="1.3" fill="#1a1a9a"/><circle cx="243.6" cy="603.6" r="1.3" fill="#1a1a9a"/><circle cx="244.9" cy="644.2" r="1.3" fill="#1a1a9a"/><circle cx="246.9" cy="608.6" r="1.3" fill="#1a1a9a"/><circle cx="250.1" cy="662.8" r="1.3" fill="#1a1a9a"/><circle cx="253.6" cy="604.8" r="1.3" fill="#1a1a9a"/><circle cx="255.0" cy="597.4" r="1.3" fill="#1a1a9a"/><circle cx="165.1" cy="572.4" r="1.3" fill="#1a1a9a"/><circle cx="169.5" cy="582.7" r="1.3" fill="#1a1a9a"/><circle cx="180.7" cy="567.2" r="1.3" fill="#1a1a9a"/><circle cx="208.2" cy="583.6" r="1.3" fill="#1a1a9a"/><circle cx="211.1" cy="585.6" r="1.3" fill="#1a1a9a"/>
<rect x="56.5" y="630.7" width="78.8" height="37.9" fill="#fff" stroke="#666" stroke-width="0.8"/>
<circle cx="65.0" cy="640.0" r="2" fill="#1a1a9a"/>
<line x1="59.5" y1="647.7" x2="70.0" y2="647.7" stroke="#3a45d0" stroke-width="1.2"/>
<circle cx="65.0" cy="657.4" r="2" fill="#c01a2a"/>
<line x1="59.5" y1="664.7" x2="70.0" y2="664.7" stroke="#e8605a" stroke-width="1.2"/>
<text x="74.3" y="642.4" font-size="6.8" fill="#333">SPIOs M<tspan dy="1.3" font-size="4.62">PARL</tspan><tspan dy="-5" font-size="4.90"> 2</tspan><tspan dy="3.7"> Data</tspan></text>
<text x="74.3" y="650.1" font-size="6.8" fill="#333">Fit</text>
<text x="74.3" y="659.8" font-size="6.8" fill="#333">SPIOs M<tspan dy="1.3" font-size="4.62">PERP</tspan><tspan dy="-5" font-size="4.90"> 2</tspan><tspan dy="3.7"> Data</tspan></text>
<text x="74.3" y="667.1" font-size="6.8" fill="#333">Fit</text>
<text transform="translate(232.4,513.8) scale(0.85,1)" font-size="21.4" fill="#000">C</text>
<defs><radialGradient id="gD" cx="0.4" cy="0.35" r="0.7"><stop offset="0" stop-color="#8c3e1c"/><stop offset="0.6" stop-color="#622610"/><stop offset="1" stop-color="#3a1406"/></radialGradient><linearGradient id="gDb" x1="0" y1="0" x2="1" y2="1"><stop offset="0" stop-color="#3e48d0"/><stop offset="1" stop-color="#2830a8"/></linearGradient><radialGradient id="gE" cx="0.3" cy="0.42" r="0.7"><stop offset="0" stop-color="#6a5ac8"/><stop offset="0.45" stop-color="#30209a"/><stop offset="1" stop-color="#1c1460"/></radialGradient><radialGradient id="gEo" cx="0.45" cy="0.4" r="0.6"><stop offset="0" stop-color="#d8662a"/><stop offset="1" stop-color="#b04a18"/></radialGradient><radialGradient id="gF" cx="0.22" cy="0.3" r="0.75"><stop offset="0" stop-color="#b8c0ff"/><stop offset="0.1" stop-color="#4a4ae8"/><stop offset="0.5" stop-color="#2222c4"/><stop offset="1" stop-color="#101070"/></radialGradient></defs>
<path d="M425.0,55.7 Q419.1,41.9 405.0,36.5 M481.1,64.3 Q494.4,63.2 502.9,52.8 M478.9,60.6 Q490.6,55.7 499.0,46.3 M420.6,65.0 Q409.5,62.4 400.8,55.1 M454.4,47.4 Q458.5,34.0 457.2,20.0 M474.8,101.4 Q482.6,113.7 494.9,121.6 M487.4,75.3 Q499.3,78.9 510.1,72.8 M435.8,50.4 Q424.8,39.6 423.0,24.3 M478.4,59.1 Q489.2,53.8 496.9,44.6 M483.0,91.8 Q494.1,98.8 506.9,102.0 M432.7,106.4 Q421.8,116.0 417.9,130.0 M415.1,82.9 Q404.4,79.7 394.7,85.3 M451.0,45.4 Q454.8,35.2 450.9,25.1 M421.0,64.2 Q411.0,61.2 403.0,54.5 M463.0,110.5 Q462.0,126.2 472.6,137.8 M429.2,104.9 Q418.7,114.1 412.2,126.6 M461.7,46.8 Q468.8,38.3 467.7,27.3 M431.7,106.8 Q426.9,120.9 415.9,131.0 M417.5,70.0 Q407.0,64.4 395.2,63.6 M472.4,105.7 Q478.9,119.4 490.2,129.5 M486.5,76.3 Q498.7,78.0 510.5,74.3 M467.3,50.1 Q471.0,38.5 478.5,28.8" fill="none" stroke="#b0804c" stroke-width="1.2" stroke-linecap="round"/>
<path d="M476.9,55.4 Q489.1,48.0 496.8,36.0 M467.3,50.1 Q477.7,38.8 481.1,23.8 M434.9,49.0 Q432.0,33.9 421.7,22.6 M468.3,51.5 Q480.1,42.1 482.6,27.2 M477.3,56.3 Q491.1,48.7 499.7,35.5 M477.3,55.9 Q489.1,48.3 497.3,37.0 M464.9,49.6 Q475.9,37.4 477.6,21.1 M466.6,50.1 Q479.3,39.1 480.6,22.4 M466.2,48.9 Q478.5,38.1 479.0,21.7 M442.3,47.0 Q443.2,33.3 435.9,21.6 M480.9,61.3 Q493.7,58.2 501.9,47.9 M429.8,52.9 Q420.1,44.5 414.8,32.9 M469.2,52.5 Q479.3,41.3 485.3,27.4 M482.3,62.8 Q495.5,59.5 505.3,50.0 M424.3,55.5 Q417.8,44.6 406.6,38.7 M445.2,45.4 Q437.6,33.6 441.1,20.0" fill="none" stroke="#b48654" stroke-width="1.2" stroke-linecap="round"/>
<ellipse cx="451" cy="80" rx="37" ry="36" fill="url(#gD)"/>
<path d="M422,90 Q452,100 488,72 L488,82 Q462,106 424,95 Z" fill="#8e4a24"/>
<clipPath id="cDb"><path d="M424.9,89 Q432,70 452,62 Q466,57 475,58 Q486,64 485,74 Q484,84 472,88.5 Q452,91 424.9,89 Z"/></clipPath>
<path d="M424.9,89 Q432,70 452,62 Q466,57 475,58 Q486,64 485,74 Q484,84 472,88.5 Q452,91 424.9,89 Z" fill="url(#gDb)"/>
<g clip-path="url(#cDb)" stroke="#6a7af0" stroke-width="0.6" opacity="0.8"><line x1="420" y1="62" x2="490" y2="56"/><line x1="420" y1="65" x2="490" y2="59"/><line x1="420" y1="68" x2="490" y2="62"/><line x1="420" y1="71" x2="490" y2="65"/><line x1="420" y1="74" x2="490" y2="68"/><line x1="420" y1="77" x2="490" y2="71"/><line x1="420" y1="80" x2="490" y2="74"/><line x1="420" y1="83" x2="490" y2="77"/><line x1="420" y1="86" x2="490" y2="80"/><line x1="420" y1="89" x2="490" y2="83"/><line x1="420" y1="92" x2="490" y2="86"/></g>
<path d="M440,66 L446,62 L447,68 Z" fill="#fff" opacity="0.8"/>
<ellipse cx="451" cy="79" rx="13.5" ry="13.5" fill="none" stroke="#111" stroke-width="1.3" stroke-dasharray="3,2"/>
<path d="M451.0,52.0 Q455.2,41.4 450.9,30.8 M454.2,47.8 Q458.5,37.7 456.2,27.1 M426.0,64.7 Q416.6,54.4 403.1,50.7 M432.1,59.8 Q422.7,54.2 418.0,44.3 M460.9,50.1 Q468.6,40.1 468.0,27.5 M438.1,52.0 Q436.1,38.2 427.2,27.4 M438.3,56.2 Q437.0,44.1 427.9,36.1 M479.8,62.5 Q490.0,59.4 497.3,51.7 M425.0,65.5 Q413.7,56.1 399.7,51.5 M428.2,59.4 Q419.7,47.5 407.0,40.1 M426.6,61.6 Q419.8,54.0 410.6,49.3 M477.5,66.5 Q490.0,64.7 498.9,55.7 M458.6,54.6 Q467.5,43.9 465.8,30.0 M457.9,50.8 Q457.7,39.8 462.5,29.9" fill="none" stroke="#b88a58" stroke-width="1.1" stroke-linecap="round"/>
<path d="M485.1,84.2 Q495.3,88.1 506.2,87.7 M482.9,79.7 Q494.0,84.0 505.4,80.3 M484.3,87.8 Q491.8,92.6 500.8,92.7 M472.9,98.4 Q479.6,107.7 489.1,114.0 M483.8,78.1 Q495.2,79.7 506.5,77.5 M474.8,100.7 Q483.4,104.1 486.7,112.6 M482.0,68.8 Q490.8,67.9 498.1,63.0 M484.6,70.4 Q493.0,69.8 500.4,66.0 M483.9,80.8 Q494.1,84.5 504.6,82.1 M482.5,64.7 Q495.4,64.2 503.8,54.3 M483.5,79.0 Q494.3,82.7 505.1,78.9 M483.1,73.9 Q493.6,76.0 502.9,70.5" fill="none" stroke="#b0804c" stroke-width="1.1" stroke-linecap="round"/>
<path d="M420.5,94.5 Q409.1,95.9 401.8,104.9 M424.4,93.7 Q415.1,95.5 409.2,102.9 M419.9,83.4 Q410.4,82.2 401.7,86.1 M420.9,80.4 Q411.9,82.7 402.8,81.3 M416.1,72.1 Q404.2,73.8 394.0,67.4 M419.8,73.5 Q409.2,68.0 397.4,69.2 M418.2,82.3 Q408.5,80.7 399.4,84.3 M423.4,99.9 Q411.7,103.2 406.1,114.1" fill="none" stroke="#b0804c" stroke-width="1.1" stroke-linecap="round"/>
<path d="M437.0,107.8 Q429.4,116.5 427.9,127.9 M422.5,88.6 Q412.7,89.7 404.5,95.1 M464.2,103.9 Q466.2,113.4 472.4,120.9 M446.5,105.9 Q443.1,114.8 443.7,124.2 M461.0,108.8 Q461.4,121.3 468.2,131.9 M433.2,105.7 Q424.6,112.8 422.2,123.7 M421.5,95.8 Q408.5,97.7 400.8,108.5 M447.9,110.0 Q443.5,121.8 445.6,134.1 M442.6,104.4 Q437.4,115.0 435.7,126.7 M453.1,105.6 Q450.6,116.6 454.6,127.1 M422.2,97.2 Q410.2,101.8 401.5,111.3 M460.3,104.2 Q461.6,116.1 468.0,126.2 M467.6,103.3 Q471.1,115.2 480.3,123.3 M439.4,102.8 Q432.2,110.3 431.3,120.6 M475.3,92.8 Q482.7,101.7 494.0,104.2 M456.4,106.3 Q456.1,115.9 459.7,124.7" fill="none" stroke="#a87a50" stroke-width="1.1" stroke-linecap="round"/>
<text x="510.3" y="51.6" font-size="21" fill="#000">D</text>
<g stroke="#111" stroke-width="1.3" stroke-dasharray="3.5,2.5" fill="none"><line x1="412.3" y1="82.1" x2="281" y2="129.3"/><line x1="436.3" y1="115.2" x2="386" y2="191"/></g>
<path d="M278,130.5 L285,125 M278,130.5 L286,131.5" stroke="#111" stroke-width="1.3" fill="none"/>
<path d="M384.7,193.3 L385,185.5 M384.7,193.3 L391,188.5" stroke="#111" stroke-width="1.3" fill="none"/>
<path d="M271.5,139.5 L276,135.5 L377,135.5 L382,140.5 L287,140.5 Z" fill="#fff" stroke="#7f9cc6" stroke-width="0.9"/>
<rect x="271.5" y="139.5" width="8" height="18" fill="#fff" stroke="#7f9cc6" stroke-width="0.9"/>
<rect x="279.5" y="140.5" width="8" height="18" fill="#fff" stroke="#7f9cc6" stroke-width="0.9"/>
<rect x="287.5" y="140.5" width="94.5" height="18" fill="#fff" stroke="#7f9cc6" stroke-width="0.9"/>
<path d="M274,153.5 l2,-4 l1,2 l2,-6 M282,145.5 l2,3 l1,-1 l2,6" stroke="#5a7ab0" stroke-width="0.8" fill="none"/>
<path d="M374,150.0 L295,150.0 M300,147.5 L295,150.0 L300,152.5" stroke="#5b80b8" stroke-width="1.4" fill="none"/>
<path d="M271.5,158.5 L276,154.5 L377,154.5 L382,159.5 L287,159.5 Z" fill="#fff" stroke="#7f9cc6" stroke-width="0.9"/>
<rect x="271.5" y="158.5" width="8" height="18" fill="#fff" stroke="#7f9cc6" stroke-width="0.9"/>
<rect x="279.5" y="159.5" width="8" height="18" fill="#fff" stroke="#7f9cc6" stroke-width="0.9"/>
<rect x="287.5" y="159.5" width="94.5" height="18" fill="#fff" stroke="#7f9cc6" stroke-width="0.9"/>
<path d="M274,172.5 l2,-4 l1,2 l2,-6 M282,164.5 l2,3 l1,-1 l2,6" stroke="#5a7ab0" stroke-width="0.8" fill="none"/>
<path d="M295,169.0 L374,169.0 M369,166.5 L374,169.0 L369,171.5" stroke="#5b80b8" stroke-width="1.4" fill="none"/>
<path d="M271.5,177.5 L276,173.5 L377,173.5 L382,178.5 L287,178.5 Z" fill="#fff" stroke="#7f9cc6" stroke-width="0.9"/>
<rect x="271.5" y="177.5" width="8" height="18" fill="#fff" stroke="#7f9cc6" stroke-width="0.9"/>
<rect x="279.5" y="178.5" width="8" height="18" fill="#fff" stroke="#7f9cc6" stroke-width="0.9"/>
<rect x="287.5" y="178.5" width="94.5" height="18" fill="#fff" stroke="#7f9cc6" stroke-width="0.9"/>
<path d="M274,191.5 l2,-4 l1,2 l2,-6 M282,183.5 l2,3 l1,-1 l2,6" stroke="#5a7ab0" stroke-width="0.8" fill="none"/>
<path d="M374,188.0 L295,188.0 M300,185.5 L295,188.0 L300,190.5" stroke="#5b80b8" stroke-width="1.4" fill="none"/>
<circle cx="345" cy="362" r="62" fill="url(#gE)"/>
<path d="M371.9,405.8 L380.7,420.7 M300.6,368.0 L283.8,370.2 M363.4,316.2 L369.3,300.8 M349.8,405.1 L351.1,420.0 M308.1,339.5 L293.9,331.0 M351.1,407.7 L352.7,421.7 M397.4,361.2 L415.8,360.9 M313.4,333.0 L302.4,323.1 M301.4,362.7 L284.1,363.0 M315.5,395.1 L304.0,407.6 M383.7,399.7 L395.7,411.6 M301.3,346.9 L286.1,341.7 M362.9,402.3 L369.3,417.8 M350.9,413.6 L352.4,429.1 M397.9,351.7 L415.8,348.1 M350.0,312.4 L351.4,295.0 M380.9,395.8 L393.6,408.1 M362.1,412.8 L367.8,430.7 M306.0,387.5 L292.6,396.1 M305.4,397.5 L292.8,408.5 M389.7,369.4 L405.9,372.2 M394.8,359.8 L411.1,359.1 M297.1,346.0 L282.2,341.1 M307.6,330.7 L294.5,320.0 M365.1,403.0 L371.5,416.8 M388.4,341.1 L403.1,333.8 M330.5,403.7 L325.6,416.8 M366.2,314.3 L372.5,299.3 M325.4,315.6 L317.9,298.8 M392.3,349.6 L409.8,344.9 M394.4,350.0 L412.0,345.7 M298.5,364.7 L283.4,365.6 M378.1,330.3 L388.2,320.4 M363.6,313.3 L369.3,297.5 M368.8,324.6 L376.4,312.1 M334.1,408.5 L330.4,423.0 M388.7,381.9 L404.7,389.4 M397.2,356.7 L413.8,354.9 M345.3,415.6 L345.0,432.9 M340.2,318.9 L338.2,304.6 M373.4,317.8 L383.1,302.0 M307.3,333.4 L294.0,323.5 M373.3,324.0 L382.8,310.9 M337.6,413.0 L335.2,427.6 M324.8,312.8 L318.9,299.0 M304.1,334.0 L289.0,323.9 M306.1,338.6 L292.7,330.8 M397.3,348.4 L412.3,344.4 M382.7,386.9 L394.1,394.6 M303.6,376.7 L287.5,382.3 M320.9,325.0 L312.1,311.9 M324.0,405.6 L317.2,419.2 M368.8,401.2 L376.5,414.4 M333.7,314.1 L330.1,300.0 M333.2,310.8 L328.7,293.1 M357.0,320.1 L360.8,305.3 M393.6,382.1 L407.8,388.1 M334.9,317.2 L330.9,301.0 M329.0,402.3 L323.1,416.2 M326.7,411.4 L320.8,426.4 M296.6,361.0 L278.3,360.7 M386.7,391.0 L400.2,400.6 M340.8,308.6 L339.2,292.3 M330.6,315.3 L325.4,299.4 M394.0,382.3 L411.5,389.7 M317.2,399.0 L306.2,413.2 M380.4,389.6 L391.3,398.4 M366.3,314.5 L372.8,299.3 M314.6,332.0 L303.1,321.0 M300.1,379.3 L285.1,384.9 M308.6,388.6 L297.1,396.8 M303.8,380.6 L288.5,387.3 M367.0,315.3 L373.8,300.1 M350.1,409.5 L351.4,425.5 M309.7,322.5 L299.4,311.2 M297.6,368.2 L280.5,370.4 M386.0,329.1 L399.5,318.0 M348.7,311.4 L349.7,293.2 M330.0,313.8 L325.1,298.9 M387.3,338.2 L401.7,329.9 M370.3,314.2 L379.1,296.9 M392.8,363.9 L408.1,364.5 M311.2,390.4 L298.8,400.4 M387.0,384.4 L402.6,392.9 M343.7,313.6 L343.0,298.9 M395.1,348.1 L410.0,343.8 M320.3,405.3 L311.4,420.3 M342.3,415.4 L341.2,431.7 M344.6,414.5 L344.2,429.9 M326.9,320.6 L320.1,305.9 M337.8,408.9 L334.8,426.5 M298.8,371.9 L282.4,375.4 M337.3,406.4 L334.4,421.5 M339.6,407.0 L337.2,424.3 M396.9,373.2 L415.3,377.2 M333.8,320.3 L329.4,305.5 M394.5,374.2 L411.4,378.5 M348.7,405.2 L349.6,420.8 M384.8,388.2 L397.9,397.1 M383.4,332.8 L395.0,323.7 M359.5,311.5 L364.0,295.0 M389.3,375.8 L404.0,380.5 M302.6,347.3 L286.4,341.9 M375.5,317.7 L386.0,302.0 M395.5,367.5 L410.2,369.1 M387.6,331.7 L402.1,321.1 M362.6,402.7 L368.9,418.1 M306.7,330.9 L293.7,320.7 M360.6,317.2 L365.3,302.8 M317.8,399.2 L307.9,412.4 M380.0,333.9 L390.7,325.1 M295.4,358.3 L280.0,357.1 M340.5,405.6 L338.8,419.3 M295.2,363.6 L277.9,364.1 M370.2,399.3 L379.6,413.7 M299.5,350.5 L283.0,346.4 M339.2,313.3 L337.1,298.8 M367.3,321.6 L373.9,309.1 M316.5,401.4 L306.3,415.0 M369.5,407.4 L377.1,422.3 M373.6,406.7 L383.2,422.3 M388.3,333.8 L401.1,325.2 M355.2,309.8 L358.2,292.8 M391.1,332.8 L405.1,323.7 M395.9,342.9 L413.1,336.3" fill="none" stroke="#4270b4" stroke-width="4.0" stroke-linecap="round"/>
<path d="M371.9,405.8 L380.7,420.7 M300.6,368.0 L283.8,370.2 M363.4,316.2 L369.3,300.8 M349.8,405.1 L351.1,420.0 M308.1,339.5 L293.9,331.0 M351.1,407.7 L352.7,421.7 M397.4,361.2 L415.8,360.9 M313.4,333.0 L302.4,323.1 M301.4,362.7 L284.1,363.0 M315.5,395.1 L304.0,407.6 M383.7,399.7 L395.7,411.6 M301.3,346.9 L286.1,341.7 M362.9,402.3 L369.3,417.8 M350.9,413.6 L352.4,429.1 M397.9,351.7 L415.8,348.1 M350.0,312.4 L351.4,295.0 M380.9,395.8 L393.6,408.1 M362.1,412.8 L367.8,430.7 M306.0,387.5 L292.6,396.1 M305.4,397.5 L292.8,408.5 M389.7,369.4 L405.9,372.2 M394.8,359.8 L411.1,359.1 M297.1,346.0 L282.2,341.1 M307.6,330.7 L294.5,320.0 M365.1,403.0 L371.5,416.8 M388.4,341.1 L403.1,333.8 M330.5,403.7 L325.6,416.8 M366.2,314.3 L372.5,299.3 M325.4,315.6 L317.9,298.8 M392.3,349.6 L409.8,344.9 M394.4,350.0 L412.0,345.7 M298.5,364.7 L283.4,365.6 M378.1,330.3 L388.2,320.4 M363.6,313.3 L369.3,297.5 M368.8,324.6 L376.4,312.1 M334.1,408.5 L330.4,423.0 M388.7,381.9 L404.7,389.4 M397.2,356.7 L413.8,354.9 M345.3,415.6 L345.0,432.9 M340.2,318.9 L338.2,304.6 M373.4,317.8 L383.1,302.0 M307.3,333.4 L294.0,323.5 M373.3,324.0 L382.8,310.9 M337.6,413.0 L335.2,427.6 M324.8,312.8 L318.9,299.0 M304.1,334.0 L289.0,323.9 M306.1,338.6 L292.7,330.8 M397.3,348.4 L412.3,344.4 M382.7,386.9 L394.1,394.6 M303.6,376.7 L287.5,382.3 M320.9,325.0 L312.1,311.9 M324.0,405.6 L317.2,419.2 M368.8,401.2 L376.5,414.4 M333.7,314.1 L330.1,300.0 M333.2,310.8 L328.7,293.1 M357.0,320.1 L360.8,305.3 M393.6,382.1 L407.8,388.1 M334.9,317.2 L330.9,301.0 M329.0,402.3 L323.1,416.2 M326.7,411.4 L320.8,426.4 M296.6,361.0 L278.3,360.7 M386.7,391.0 L400.2,400.6 M340.8,308.6 L339.2,292.3 M330.6,315.3 L325.4,299.4 M394.0,382.3 L411.5,389.7 M317.2,399.0 L306.2,413.2 M380.4,389.6 L391.3,398.4 M366.3,314.5 L372.8,299.3 M314.6,332.0 L303.1,321.0 M300.1,379.3 L285.1,384.9 M308.6,388.6 L297.1,396.8 M303.8,380.6 L288.5,387.3 M367.0,315.3 L373.8,300.1 M350.1,409.5 L351.4,425.5 M309.7,322.5 L299.4,311.2 M297.6,368.2 L280.5,370.4 M386.0,329.1 L399.5,318.0 M348.7,311.4 L349.7,293.2 M330.0,313.8 L325.1,298.9 M387.3,338.2 L401.7,329.9 M370.3,314.2 L379.1,296.9 M392.8,363.9 L408.1,364.5 M311.2,390.4 L298.8,400.4 M387.0,384.4 L402.6,392.9 M343.7,313.6 L343.0,298.9 M395.1,348.1 L410.0,343.8 M320.3,405.3 L311.4,420.3 M342.3,415.4 L341.2,431.7 M344.6,414.5 L344.2,429.9 M326.9,320.6 L320.1,305.9 M337.8,408.9 L334.8,426.5 M298.8,371.9 L282.4,375.4 M337.3,406.4 L334.4,421.5 M339.6,407.0 L337.2,424.3 M396.9,373.2 L415.3,377.2 M333.8,320.3 L329.4,305.5 M394.5,374.2 L411.4,378.5 M348.7,405.2 L349.6,420.8 M384.8,388.2 L397.9,397.1 M383.4,332.8 L395.0,323.7 M359.5,311.5 L364.0,295.0 M389.3,375.8 L404.0,380.5 M302.6,347.3 L286.4,341.9 M375.5,317.7 L386.0,302.0 M395.5,367.5 L410.2,369.1 M387.6,331.7 L402.1,321.1 M362.6,402.7 L368.9,418.1 M306.7,330.9 L293.7,320.7 M360.6,317.2 L365.3,302.8 M317.8,399.2 L307.9,412.4 M380.0,333.9 L390.7,325.1 M295.4,358.3 L280.0,357.1 M340.5,405.6 L338.8,419.3 M295.2,363.6 L277.9,364.1 M370.2,399.3 L379.6,413.7 M299.5,350.5 L283.0,346.4 M339.2,313.3 L337.1,298.8 M367.3,321.6 L373.9,309.1 M316.5,401.4 L306.3,415.0 M369.5,407.4 L377.1,422.3 M373.6,406.7 L383.2,422.3 M388.3,333.8 L401.1,325.2 M355.2,309.8 L358.2,292.8 M391.1,332.8 L405.1,323.7 M395.9,342.9 L413.1,336.3" fill="none" stroke="#9cc8ea" stroke-width="1.68" stroke-linecap="round"/>
<path d="M315.7,376.7 L302.6,384.5 M313.2,374.7 L298.8,381.5 M330.4,395.8 L323.0,415.5 M371.3,403.4 L382.6,421.4 M331.4,409.2 L325.4,432.2 M305.9,386.6 L290.9,397.0 M310.5,388.4 L295.7,400.9 M373.9,399.1 L387.6,417.0 M304.0,386.1 L283.4,399.5 M336.0,405.5 L332.1,427.0 M368.7,404.9 L378.9,423.5 M313.1,400.8 L298.9,419.7 M377.5,395.4 L393.3,412.1 M362.6,383.8 L372.9,396.9 M386.6,387.4 L405.5,399.5 M341.3,399.8 L340.0,420.0 M313.7,381.9 L299.1,392.4 M336.2,396.3 L332.2,414.9 M339.0,400.1 L336.5,420.5 M341.1,391.2 L339.4,410.2 M355.5,398.7 L360.9,416.9 M301.7,388.7 L283.0,401.4 M350.0,391.1 L353.5,409.5 M371.5,393.1 L383.9,407.9 M357.2,396.3 L363.1,412.6 M379.7,383.5 L398.0,395.5 M332.0,392.5 L325.6,410.1 M376.6,383.0 L393.9,395.2 M310.5,383.7 L292.8,396.2 M342.9,402.5 L342.4,423.1 M301.8,381.0 L282.8,390.4 M321.2,398.9 L311.2,416.1 M314.4,398.6 L300.7,416.5 M319.4,375.7 L305.6,384.5 M331.8,396.2 L326.3,412.4 M326.3,396.4 L318.4,412.8 M386.7,388.7 L404.6,400.7 M369.4,384.1 L381.5,395.7 M318.8,382.9 L306.4,394.0 M375.2,387.0 L388.9,398.9 M358.5,404.7 L365.9,427.6 M323.4,381.5 L312.3,393.1 M322.8,380.7 L311.9,391.4 M343.7,399.2 L343.6,419.8 M323.9,395.9 L315.0,411.9 M363.4,390.7 L372.0,404.4 M331.2,390.8 L323.8,408.7 M333.6,388.6 L327.8,404.2 M336.4,389.0 L332.2,404.9 M384.2,385.5 L399.6,395.3 M327.7,409.1 L319.8,433.0 M366.6,396.3 L376.1,411.6 M359.5,407.0 L367.0,430.0 M378.0,379.5 L395.3,389.4 M374.5,397.4 L390.0,416.3" fill="none" stroke="#4a78c4" stroke-width="3.4" stroke-linecap="round"/>
<path d="M315.7,376.7 L302.6,384.5 M313.2,374.7 L298.8,381.5 M330.4,395.8 L323.0,415.5 M371.3,403.4 L382.6,421.4 M331.4,409.2 L325.4,432.2 M305.9,386.6 L290.9,397.0 M310.5,388.4 L295.7,400.9 M373.9,399.1 L387.6,417.0 M304.0,386.1 L283.4,399.5 M336.0,405.5 L332.1,427.0 M368.7,404.9 L378.9,423.5 M313.1,400.8 L298.9,419.7 M377.5,395.4 L393.3,412.1 M362.6,383.8 L372.9,396.9 M386.6,387.4 L405.5,399.5 M341.3,399.8 L340.0,420.0 M313.7,381.9 L299.1,392.4 M336.2,396.3 L332.2,414.9 M339.0,400.1 L336.5,420.5 M341.1,391.2 L339.4,410.2 M355.5,398.7 L360.9,416.9 M301.7,388.7 L283.0,401.4 M350.0,391.1 L353.5,409.5 M371.5,393.1 L383.9,407.9 M357.2,396.3 L363.1,412.6 M379.7,383.5 L398.0,395.5 M332.0,392.5 L325.6,410.1 M376.6,383.0 L393.9,395.2 M310.5,383.7 L292.8,396.2 M342.9,402.5 L342.4,423.1 M301.8,381.0 L282.8,390.4 M321.2,398.9 L311.2,416.1 M314.4,398.6 L300.7,416.5 M319.4,375.7 L305.6,384.5 M331.8,396.2 L326.3,412.4 M326.3,396.4 L318.4,412.8 M386.7,388.7 L404.6,400.7 M369.4,384.1 L381.5,395.7 M318.8,382.9 L306.4,394.0 M375.2,387.0 L388.9,398.9 M358.5,404.7 L365.9,427.6 M323.4,381.5 L312.3,393.1 M322.8,380.7 L311.9,391.4 M343.7,399.2 L343.6,419.8 M323.9,395.9 L315.0,411.9 M363.4,390.7 L372.0,404.4 M331.2,390.8 L323.8,408.7 M333.6,388.6 L327.8,404.2 M336.4,389.0 L332.2,404.9 M384.2,385.5 L399.6,395.3 M327.7,409.1 L319.8,433.0 M366.6,396.3 L376.1,411.6 M359.5,407.0 L367.0,430.0 M378.0,379.5 L395.3,389.4 M374.5,397.4 L390.0,416.3" fill="none" stroke="#a6d0f0" stroke-width="1.53" stroke-linecap="round"/>
<path d="M318.6,342.0 L315.6,339.2 M315.7,353.4 L311.5,351.9 M322.3,343.8 L319.3,340.7 M302.1,359.5 L296.2,359.1 M335.0,328.6 L334.2,323.4 M311.6,329.0 L308.4,325.3 M331.6,333.4 L330.5,329.6 M300.8,348.5 L294.9,346.5 M300.8,375.0 L296.4,376.5 M333.8,331.3 L332.8,326.7 M326.1,383.3 L324.2,386.3 M305.4,349.8 L300.2,348.0 M322.8,332.6 L320.1,328.0 M310.0,391.6 L306.4,395.2 M330.8,330.1 L329.5,325.6 M314.4,359.2 L310.7,358.8 M301.3,354.8 L296.8,353.9 M307.7,368.6 L302.7,369.7 M336.3,335.6 L335.7,331.4 M319.8,397.2 L316.8,402.5 M310.2,340.0 L306.7,337.4 M325.6,388.5 L323.7,392.0 M315.4,397.7 L312.3,402.1 M325.4,324.6 L323.2,319.2 M326.4,325.4 L324.6,320.6 M306.7,362.9 L302.5,363.0 M327.3,396.5 L325.5,401.3 M332.9,324.9 L331.8,319.4 M303.0,362.3 L297.4,362.3 M332.1,385.4 L330.8,389.2" fill="none" stroke="#7a80e0" stroke-width="1.8" stroke-linecap="round"/>
<path d="M318.6,342.0 L315.6,339.2 M315.7,353.4 L311.5,351.9 M322.3,343.8 L319.3,340.7 M302.1,359.5 L296.2,359.1 M335.0,328.6 L334.2,323.4 M311.6,329.0 L308.4,325.3 M331.6,333.4 L330.5,329.6 M300.8,348.5 L294.9,346.5 M300.8,375.0 L296.4,376.5 M333.8,331.3 L332.8,326.7 M326.1,383.3 L324.2,386.3 M305.4,349.8 L300.2,348.0 M322.8,332.6 L320.1,328.0 M310.0,391.6 L306.4,395.2 M330.8,330.1 L329.5,325.6 M314.4,359.2 L310.7,358.8 M301.3,354.8 L296.8,353.9 M307.7,368.6 L302.7,369.7 M336.3,335.6 L335.7,331.4 M319.8,397.2 L316.8,402.5 M310.2,340.0 L306.7,337.4 M325.6,388.5 L323.7,392.0 M315.4,397.7 L312.3,402.1 M325.4,324.6 L323.2,319.2 M326.4,325.4 L324.6,320.6 M306.7,362.9 L302.5,363.0 M327.3,396.5 L325.5,401.3 M332.9,324.9 L331.8,319.4 M303.0,362.3 L297.4,362.3 M332.1,385.4 L330.8,389.2" fill="none" stroke="#e0e6ff" stroke-width="0.9" stroke-linecap="round"/>
<path d="M393,352 L421,368 L400,383 L360,384 Z" fill="#7aa8d8"/>
<path d="M314,382 L315,343 Q329,310 358,307 Q384,310 397,333 L399,352 L394,370 L350,384 Z" fill="#3f8fb8"/>
<clipPath id="cEt"><path d="M314,382 L315,343 Q329,310 358,307 Q384,310 397,333 L399,352 L394,370 L350,384 Z"/></clipPath>
<g clip-path="url(#cEt)"><circle cx="385.5" cy="331.4" r="1.0" fill="#60c0a0"/><circle cx="398.4" cy="328.7" r="1.8" fill="#a0d870"/><circle cx="333.9" cy="350.0" r="1.3" fill="#4ab0c8"/><circle cx="390.3" cy="307.3" r="1.0" fill="#3a7ac0"/><circle cx="386.8" cy="346.1" r="1.0" fill="#3a7ac0"/><circle cx="341.6" cy="312.1" r="1.3" fill="#8ad0c8"/><circle cx="330.9" cy="320.5" r="1.6" fill="#2a5aa8"/><circle cx="376.1" cy="378.0" r="1.5" fill="#a0d870"/><circle cx="319.0" cy="373.0" r="1.5" fill="#4ab0c8"/><circle cx="380.4" cy="373.8" r="1.4" fill="#2a5aa8"/><circle cx="388.1" cy="379.3" r="1.8" fill="#a0d870"/><circle cx="337.0" cy="355.8" r="1.8" fill="#a0d870"/><circle cx="344.3" cy="347.9" r="1.6" fill="#3a7ac0"/><circle cx="399.0" cy="348.0" r="1.4" fill="#60c0a0"/><circle cx="349.0" cy="316.2" r="0.8" fill="#3a7ac0"/><circle cx="402.6" cy="309.2" r="0.8" fill="#4ab0c8"/><circle cx="344.9" cy="385.1" r="1.1" fill="#2a5aa8"/><circle cx="358.4" cy="350.6" r="0.9" fill="#3a7ac0"/><circle cx="355.4" cy="361.0" r="0.9" fill="#2a5aa8"/><circle cx="360.9" cy="306.4" r="1.7" fill="#3a7ac0"/><circle cx="397.0" cy="365.8" r="0.8" fill="#a0d870"/><circle cx="385.1" cy="316.9" r="1.5" fill="#2a5aa8"/><circle cx="334.1" cy="359.0" r="0.9" fill="#3a7ac0"/><circle cx="347.9" cy="343.5" r="1.0" fill="#60c0a0"/><circle cx="331.3" cy="372.8" r="1.0" fill="#60c0a0"/><circle cx="314.3" cy="382.6" r="1.5" fill="#60c0a0"/><circle cx="382.8" cy="383.3" r="1.5" fill="#a0d870"/><circle cx="367.3" cy="344.7" r="1.4" fill="#8ad0c8"/><circle cx="393.5" cy="343.2" r="1.1" fill="#3a7ac0"/><circle cx="337.4" cy="341.8" r="0.8" fill="#60c0a0"/><circle cx="356.8" cy="307.9" r="0.9" fill="#4ab0c8"/><circle cx="320.3" cy="376.1" r="1.0" fill="#a0d870"/><circle cx="319.6" cy="339.4" r="1.8" fill="#2a5aa8"/><circle cx="347.4" cy="342.3" r="1.3" fill="#3a7ac0"/><circle cx="387.2" cy="337.6" r="1.2" fill="#4ab0c8"/><circle cx="335.1" cy="375.0" r="1.7" fill="#2a5aa8"/><circle cx="341.8" cy="379.0" r="1.8" fill="#8ad0c8"/><circle cx="381.4" cy="386.0" r="1.8" fill="#3a7ac0"/><circle cx="382.6" cy="358.1" r="1.3" fill="#3a7ac0"/><circle cx="348.8" cy="375.4" r="1.8" fill="#3a7ac0"/><circle cx="392.5" cy="373.3" r="1.1" fill="#4ab0c8"/><circle cx="319.3" cy="359.7" r="0.9" fill="#60c0a0"/><circle cx="397.5" cy="361.4" r="1.7" fill="#60c0a0"/><circle cx="366.2" cy="350.4" r="1.4" fill="#4ab0c8"/><circle cx="360.5" cy="374.3" r="0.9" fill="#a0d870"/><circle cx="375.6" cy="315.4" r="1.5" fill="#60c0a0"/><circle cx="343.6" cy="359.9" r="1.4" fill="#4ab0c8"/><circle cx="399.9" cy="312.0" r="1.1" fill="#4ab0c8"/><circle cx="345.1" cy="357.4" r="1.6" fill="#4ab0c8"/><circle cx="316.3" cy="365.6" r="1.3" fill="#60c0a0"/><circle cx="384.5" cy="348.2" r="1.2" fill="#2a5aa8"/><circle cx="322.1" cy="335.4" r="0.8" fill="#60c0a0"/><circle cx="384.2" cy="370.4" r="1.7" fill="#a0d870"/><circle cx="370.3" cy="371.8" r="1.7" fill="#a0d870"/><circle cx="320.1" cy="308.7" r="1.2" fill="#4ab0c8"/><circle cx="377.8" cy="319.4" r="1.0" fill="#3a7ac0"/><circle cx="364.2" cy="364.7" r="1.3" fill="#8ad0c8"/><circle cx="329.5" cy="351.8" r="1.2" fill="#a0d870"/><circle cx="372.7" cy="350.1" r="1.2" fill="#60c0a0"/><circle cx="320.9" cy="368.7" r="1.8" fill="#4ab0c8"/><circle cx="340.2" cy="359.2" r="1.8" fill="#8ad0c8"/><circle cx="351.5" cy="345.8" r="1.6" fill="#8ad0c8"/><circle cx="331.6" cy="333.7" r="1.7" fill="#60c0a0"/><circle cx="343.7" cy="316.8" r="1.3" fill="#8ad0c8"/><circle cx="353.1" cy="329.5" r="1.5" fill="#60c0a0"/><circle cx="320.7" cy="352.6" r="1.1" fill="#2a5aa8"/><circle cx="327.9" cy="305.7" r="1.4" fill="#8ad0c8"/><circle cx="351.7" cy="347.5" r="1.5" fill="#3a7ac0"/><circle cx="392.6" cy="370.0" r="1.2" fill="#4ab0c8"/><circle cx="391.3" cy="333.8" r="1.7" fill="#3a7ac0"/><circle cx="394.2" cy="336.3" r="1.2" fill="#a0d870"/><circle cx="381.2" cy="307.0" r="1.1" fill="#a0d870"/><circle cx="338.1" cy="346.4" r="1.5" fill="#3a7ac0"/><circle cx="313.9" cy="311.2" r="1.7" fill="#8ad0c8"/><circle cx="346.3" cy="326.5" r="1.2" fill="#2a5aa8"/><circle cx="325.4" cy="341.1" r="1.0" fill="#60c0a0"/><circle cx="357.3" cy="328.8" r="1.7" fill="#8ad0c8"/><circle cx="393.2" cy="358.7" r="1.0" fill="#60c0a0"/><circle cx="351.2" cy="307.0" r="0.9" fill="#a0d870"/><circle cx="370.2" cy="323.8" r="1.4" fill="#4ab0c8"/><circle cx="315.3" cy="380.6" r="0.9" fill="#3a7ac0"/><circle cx="403.8" cy="378.5" r="0.8" fill="#2a5aa8"/><circle cx="378.8" cy="344.4" r="1.2" fill="#8ad0c8"/><circle cx="319.1" cy="320.7" r="1.3" fill="#8ad0c8"/><circle cx="365.8" cy="375.8" r="1.5" fill="#2a5aa8"/><circle cx="385.0" cy="382.1" r="1.0" fill="#4ab0c8"/><circle cx="388.2" cy="369.3" r="1.2" fill="#8ad0c8"/><circle cx="340.0" cy="365.1" r="0.9" fill="#a0d870"/><circle cx="329.3" cy="356.7" r="1.5" fill="#4ab0c8"/><circle cx="398.9" cy="314.3" r="1.2" fill="#3a7ac0"/><circle cx="347.3" cy="338.2" r="0.9" fill="#3a7ac0"/><circle cx="327.5" cy="356.8" r="1.1" fill="#60c0a0"/><circle cx="385.0" cy="382.4" r="1.1" fill="#4ab0c8"/><circle cx="398.6" cy="334.6" r="1.0" fill="#8ad0c8"/><circle cx="385.5" cy="308.6" r="1.0" fill="#a0d870"/><circle cx="400.9" cy="371.9" r="1.2" fill="#2a5aa8"/><circle cx="320.4" cy="321.7" r="1.5" fill="#4ab0c8"/><circle cx="351.2" cy="353.7" r="1.6" fill="#4ab0c8"/><circle cx="340.0" cy="324.1" r="1.4" fill="#2a5aa8"/><circle cx="357.0" cy="351.7" r="1.7" fill="#60c0a0"/><circle cx="356.5" cy="338.1" r="0.8" fill="#60c0a0"/><circle cx="315.3" cy="318.8" r="1.8" fill="#8ad0c8"/><circle cx="357.1" cy="350.4" r="0.9" fill="#a0d870"/><circle cx="337.7" cy="381.1" r="0.9" fill="#a0d870"/><circle cx="399.9" cy="343.0" r="1.7" fill="#60c0a0"/><circle cx="354.5" cy="375.9" r="1.6" fill="#2a5aa8"/><circle cx="398.1" cy="379.1" r="1.7" fill="#8ad0c8"/><circle cx="322.5" cy="361.3" r="1.1" fill="#a0d870"/><circle cx="326.6" cy="326.8" r="1.2" fill="#60c0a0"/><circle cx="378.6" cy="319.1" r="1.4" fill="#2a5aa8"/><circle cx="395.0" cy="365.8" r="1.0" fill="#4ab0c8"/><circle cx="386.2" cy="307.6" r="0.8" fill="#4ab0c8"/><circle cx="376.7" cy="340.3" r="1.0" fill="#3a7ac0"/><circle cx="348.4" cy="315.0" r="1.6" fill="#8ad0c8"/><circle cx="388.7" cy="379.4" r="1.4" fill="#60c0a0"/><circle cx="354.8" cy="325.0" r="1.5" fill="#8ad0c8"/><circle cx="321.6" cy="359.1" r="0.9" fill="#2a5aa8"/><circle cx="365.8" cy="316.1" r="0.9" fill="#3a7ac0"/><circle cx="337.3" cy="315.4" r="1.6" fill="#4ab0c8"/><circle cx="325.9" cy="345.1" r="1.5" fill="#2a5aa8"/><circle cx="367.5" cy="347.3" r="1.2" fill="#4ab0c8"/><circle cx="347.0" cy="337.2" r="1.0" fill="#2a5aa8"/><circle cx="315.4" cy="321.7" r="0.9" fill="#3a7ac0"/><circle cx="362.6" cy="347.4" r="1.6" fill="#a0d870"/><circle cx="344.9" cy="379.2" r="1.3" fill="#a0d870"/><circle cx="402.1" cy="318.4" r="1.3" fill="#8ad0c8"/><circle cx="324.7" cy="310.4" r="0.9" fill="#2a5aa8"/><circle cx="350.2" cy="370.0" r="1.2" fill="#8ad0c8"/><circle cx="325.4" cy="347.5" r="1.7" fill="#4ab0c8"/><circle cx="387.8" cy="338.2" r="1.2" fill="#3a7ac0"/><circle cx="335.4" cy="374.4" r="0.8" fill="#4ab0c8"/><circle cx="388.7" cy="323.7" r="1.3" fill="#2a5aa8"/><circle cx="384.8" cy="385.4" r="0.9" fill="#8ad0c8"/><circle cx="382.2" cy="322.6" r="1.1" fill="#3a7ac0"/><circle cx="396.5" cy="328.0" r="1.7" fill="#8ad0c8"/><circle cx="338.7" cy="307.3" r="1.5" fill="#4ab0c8"/><circle cx="345.0" cy="384.2" r="1.7" fill="#4ab0c8"/><circle cx="357.8" cy="343.6" r="1.7" fill="#4ab0c8"/><circle cx="391.7" cy="380.7" r="0.9" fill="#4ab0c8"/><circle cx="380.3" cy="366.7" r="1.6" fill="#3a7ac0"/><circle cx="333.8" cy="356.9" r="1.5" fill="#a0d870"/><circle cx="365.4" cy="306.1" r="0.8" fill="#3a7ac0"/><circle cx="400.7" cy="381.9" r="1.2" fill="#3a7ac0"/><circle cx="382.0" cy="311.7" r="1.3" fill="#2a5aa8"/><circle cx="392.2" cy="336.0" r="1.7" fill="#8ad0c8"/><circle cx="334.9" cy="335.0" r="1.8" fill="#4ab0c8"/><circle cx="359.4" cy="383.7" r="1.6" fill="#3a7ac0"/><circle cx="381.2" cy="352.6" r="1.7" fill="#3a7ac0"/><circle cx="375.2" cy="351.8" r="1.0" fill="#3a7ac0"/><circle cx="367.1" cy="373.1" r="0.9" fill="#2a5aa8"/><circle cx="355.6" cy="321.4" r="1.1" fill="#8ad0c8"/><circle cx="355.0" cy="368.9" r="1.8" fill="#8ad0c8"/><circle cx="383.5" cy="334.9" r="1.7" fill="#a0d870"/><circle cx="317.7" cy="338.9" r="1.2" fill="#3a7ac0"/><circle cx="349.1" cy="308.3" r="1.4" fill="#a0d870"/><circle cx="388.3" cy="370.3" r="1.4" fill="#a0d870"/><circle cx="350.9" cy="368.8" r="1.0" fill="#4ab0c8"/><circle cx="363.4" cy="318.5" r="0.9" fill="#3a7ac0"/><circle cx="326.3" cy="306.4" r="1.0" fill="#8ad0c8"/><circle cx="383.1" cy="336.5" r="0.9" fill="#4ab0c8"/><circle cx="390.1" cy="355.1" r="1.3" fill="#4ab0c8"/><circle cx="355.4" cy="378.9" r="0.9" fill="#3a7ac0"/><circle cx="364.3" cy="318.0" r="0.8" fill="#8ad0c8"/><circle cx="321.0" cy="351.1" r="1.3" fill="#60c0a0"/><circle cx="400.8" cy="334.6" r="1.5" fill="#2a5aa8"/><circle cx="396.8" cy="347.9" r="0.9" fill="#60c0a0"/><circle cx="322.2" cy="333.6" r="1.1" fill="#2a5aa8"/><circle cx="350.6" cy="345.3" r="1.5" fill="#8ad0c8"/><circle cx="372.4" cy="359.5" r="1.8" fill="#3a7ac0"/><circle cx="401.1" cy="314.2" r="1.1" fill="#2a5aa8"/><circle cx="312.7" cy="330.9" r="0.9" fill="#3a7ac0"/><circle cx="353.6" cy="351.3" r="1.1" fill="#60c0a0"/><circle cx="352.5" cy="340.1" r="1.3" fill="#2a5aa8"/><circle cx="315.1" cy="349.3" r="1.0" fill="#60c0a0"/><circle cx="324.2" cy="345.5" r="1.0" fill="#4ab0c8"/><circle cx="319.4" cy="317.8" r="1.0" fill="#8ad0c8"/><circle cx="342.1" cy="353.8" r="1.2" fill="#2a5aa8"/><circle cx="347.2" cy="334.8" r="0.9" fill="#60c0a0"/><circle cx="397.7" cy="352.7" r="1.0" fill="#a0d870"/><circle cx="382.8" cy="307.8" r="1.2" fill="#4ab0c8"/><circle cx="384.5" cy="370.8" r="0.9" fill="#8ad0c8"/><circle cx="341.5" cy="358.5" r="1.4" fill="#2a5aa8"/><circle cx="392.4" cy="308.7" r="1.7" fill="#a0d870"/><circle cx="315.9" cy="375.4" r="1.8" fill="#60c0a0"/><circle cx="370.9" cy="382.3" r="1.7" fill="#4ab0c8"/><circle cx="321.5" cy="363.6" r="1.7" fill="#2a5aa8"/><circle cx="356.1" cy="357.6" r="1.5" fill="#60c0a0"/><circle cx="390.3" cy="335.8" r="1.5" fill="#4ab0c8"/><circle cx="395.8" cy="344.1" r="1.0" fill="#3a7ac0"/><circle cx="355.4" cy="331.8" r="1.2" fill="#8ad0c8"/><circle cx="366.8" cy="337.3" r="1.2" fill="#a0d870"/><circle cx="373.6" cy="377.1" r="1.3" fill="#a0d870"/><circle cx="328.3" cy="335.5" r="1.7" fill="#8ad0c8"/><circle cx="371.6" cy="351.6" r="1.0" fill="#8ad0c8"/><circle cx="394.1" cy="319.1" r="1.3" fill="#a0d870"/><circle cx="396.6" cy="364.1" r="1.6" fill="#2a5aa8"/><circle cx="338.4" cy="337.1" r="1.0" fill="#a0d870"/><circle cx="351.4" cy="356.5" r="0.9" fill="#a0d870"/><circle cx="327.1" cy="319.5" r="0.8" fill="#60c0a0"/><circle cx="386.7" cy="332.0" r="1.7" fill="#3a7ac0"/><circle cx="351.1" cy="331.8" r="1.2" fill="#a0d870"/><circle cx="366.6" cy="316.9" r="1.3" fill="#4ab0c8"/><circle cx="348.9" cy="357.6" r="1.1" fill="#a0d870"/><circle cx="365.3" cy="380.0" r="1.3" fill="#4ab0c8"/><circle cx="362.5" cy="377.1" r="1.6" fill="#8ad0c8"/><circle cx="358.8" cy="324.0" r="1.2" fill="#4ab0c8"/><circle cx="318.3" cy="321.3" r="1.6" fill="#3a7ac0"/><circle cx="375.5" cy="369.0" r="1.2" fill="#a0d870"/><circle cx="315.5" cy="324.2" r="1.8" fill="#2a5aa8"/><circle cx="353.9" cy="311.4" r="0.9" fill="#a0d870"/><circle cx="312.9" cy="359.5" r="1.5" fill="#8ad0c8"/><circle cx="323.3" cy="382.9" r="1.7" fill="#3a7ac0"/><circle cx="325.0" cy="381.3" r="1.7" fill="#8ad0c8"/><circle cx="341.9" cy="306.9" r="1.5" fill="#a0d870"/><circle cx="357.2" cy="326.3" r="0.9" fill="#3a7ac0"/><circle cx="375.4" cy="368.6" r="1.1" fill="#a0d870"/><circle cx="358.1" cy="313.6" r="1.1" fill="#4ab0c8"/><circle cx="321.5" cy="324.1" r="0.9" fill="#a0d870"/><circle cx="403.4" cy="380.5" r="1.5" fill="#4ab0c8"/><circle cx="357.2" cy="349.6" r="1.7" fill="#a0d870"/><circle cx="353.2" cy="336.4" r="1.7" fill="#8ad0c8"/><circle cx="343.0" cy="367.0" r="0.9" fill="#8ad0c8"/><circle cx="332.5" cy="314.9" r="1.4" fill="#60c0a0"/><circle cx="322.5" cy="333.4" r="1.8" fill="#4ab0c8"/><circle cx="332.6" cy="337.9" r="1.0" fill="#4ab0c8"/><circle cx="372.1" cy="329.0" r="0.9" fill="#8ad0c8"/><circle cx="342.6" cy="354.8" r="1.1" fill="#4ab0c8"/><circle cx="395.6" cy="320.0" r="1.0" fill="#3a7ac0"/><circle cx="378.6" cy="311.1" r="1.7" fill="#60c0a0"/><circle cx="371.4" cy="362.6" r="1.1" fill="#8ad0c8"/><circle cx="351.7" cy="326.0" r="0.8" fill="#a0d870"/><circle cx="334.5" cy="313.0" r="1.7" fill="#8ad0c8"/><circle cx="370.9" cy="383.6" r="1.5" fill="#60c0a0"/><circle cx="313.7" cy="319.2" r="1.4" fill="#60c0a0"/><circle cx="335.3" cy="359.3" r="1.7" fill="#4ab0c8"/><circle cx="377.9" cy="320.6" r="1.7" fill="#8ad0c8"/><circle cx="344.8" cy="359.4" r="1.3" fill="#4ab0c8"/><circle cx="399.1" cy="350.8" r="1.1" fill="#2a5aa8"/><circle cx="402.3" cy="382.1" r="1.0" fill="#8ad0c8"/><circle cx="346.4" cy="372.8" r="1.2" fill="#8ad0c8"/><circle cx="372.9" cy="380.3" r="1.5" fill="#2a5aa8"/><circle cx="314.6" cy="359.1" r="1.7" fill="#4ab0c8"/><circle cx="367.9" cy="365.4" r="1.3" fill="#2a5aa8"/><circle cx="314.8" cy="367.8" r="1.3" fill="#60c0a0"/><circle cx="370.3" cy="308.7" r="1.3" fill="#60c0a0"/><circle cx="327.6" cy="329.4" r="1.8" fill="#8ad0c8"/><circle cx="353.7" cy="354.0" r="1.6" fill="#2a5aa8"/><circle cx="320.6" cy="351.5" r="1.1" fill="#2a5aa8"/><circle cx="343.1" cy="311.4" r="1.4" fill="#a0d870"/><circle cx="366.6" cy="361.7" r="1.7" fill="#2a5aa8"/><circle cx="371.9" cy="319.6" r="1.8" fill="#a0d870"/><circle cx="337.1" cy="335.1" r="1.6" fill="#2a5aa8"/><circle cx="367.4" cy="362.4" r="0.9" fill="#a0d870"/><circle cx="395.4" cy="311.7" r="1.6" fill="#2a5aa8"/><circle cx="358.3" cy="374.8" r="1.2" fill="#60c0a0"/><circle cx="372.7" cy="362.0" r="1.1" fill="#8ad0c8"/><circle cx="362.0" cy="338.2" r="1.4" fill="#8ad0c8"/><circle cx="380.1" cy="305.7" r="1.3" fill="#8ad0c8"/><circle cx="312.1" cy="352.4" r="1.1" fill="#3a7ac0"/><circle cx="368.7" cy="383.1" r="1.5" fill="#8ad0c8"/></g>
<path d="M322,377 L323,348 Q333,322 359,320 Q384,323 393,346 L395,362 Q391,371 380,372 L352,378 Z" fill="url(#gEo)"/>
<path d="M375.7,409.1 L385.4,425.4 M359.2,406.8 L363.6,426.0 M396.2,382.9 L413.7,389.3 M375.2,407.7 L386.5,426.4 M387.4,399.9 L404.7,415.5 M392.9,383.0 L413.4,391.1 M372.0,405.5 L381.1,421.9 M360.8,404.8 L366.1,423.7 M365.8,404.2 L372.8,420.9 M388.7,391.7 L404.8,402.4 M366.9,414.2 L373.6,433.1 M363.2,403.8 L368.8,419.7 M377.6,407.3 L390.0,425.8 M361.5,415.1 L365.9,434.1 M374.7,410.8 L383.7,427.2 M378.9,395.4 L391.1,407.8 M384.3,399.7 L400.4,415.6 M392.5,383.7 L413.0,392.2 M371.4,407.1 L380.0,423.7 M375.1,400.6 L386.7,416.7 M375.4,402.6 L387.3,419.7 M385.0,395.1 L401.4,408.8 M386.1,386.9 L402.7,396.6 M387.7,399.6 L402.3,412.6 M381.5,390.4 L396.0,401.6 M387.5,391.3 L404.9,403.0 M399.7,380.9 L421.0,387.3 M369.3,408.3 L377.7,426.7 M384.1,394.8 L398.0,406.5 M386.1,389.8 L401.5,400.0" fill="none" stroke="#3c6cb8" stroke-width="3.8" stroke-linecap="round"/>
<path d="M375.7,409.1 L385.4,425.4 M359.2,406.8 L363.6,426.0 M396.2,382.9 L413.7,389.3 M375.2,407.7 L386.5,426.4 M387.4,399.9 L404.7,415.5 M392.9,383.0 L413.4,391.1 M372.0,405.5 L381.1,421.9 M360.8,404.8 L366.1,423.7 M365.8,404.2 L372.8,420.9 M388.7,391.7 L404.8,402.4 M366.9,414.2 L373.6,433.1 M363.2,403.8 L368.8,419.7 M377.6,407.3 L390.0,425.8 M361.5,415.1 L365.9,434.1 M374.7,410.8 L383.7,427.2 M378.9,395.4 L391.1,407.8 M384.3,399.7 L400.4,415.6 M392.5,383.7 L413.0,392.2 M371.4,407.1 L380.0,423.7 M375.1,400.6 L386.7,416.7 M375.4,402.6 L387.3,419.7 M385.0,395.1 L401.4,408.8 M386.1,386.9 L402.7,396.6 M387.7,399.6 L402.3,412.6 M381.5,390.4 L396.0,401.6 M387.5,391.3 L404.9,403.0 M399.7,380.9 L421.0,387.3 M369.3,408.3 L377.7,426.7 M384.1,394.8 L398.0,406.5 M386.1,389.8 L401.5,400.0" fill="none" stroke="#94c4ea" stroke-width="1.9" stroke-linecap="round"/>
<ellipse cx="381.7" cy="351" rx="9.5" ry="14.5" fill="none" stroke="#111" stroke-width="1.4" stroke-dasharray="3.5,2.5"/>
<g stroke="#111" stroke-width="1.4" stroke-dasharray="3.5,2.5"><line x1="444" y1="258.3" x2="381.1" y2="335.6"/><line x1="444" y1="415.7" x2="376.7" y2="364.4"/></g>
<line x1="444" y1="336.2" x2="389" y2="350.8" stroke="#111" stroke-width="1.5"/>
<path d="M389,346.5 L383.3,351.1 L389,355" fill="none" stroke="#111" stroke-width="1.3"/>
<path d="M443.6,258.3 A72,78.5 0 0 1 443.6,415 Z" fill="#4d72a8" stroke="#3d5f94" stroke-width="0.8" stroke-dasharray="2,1"/>
<circle cx="487.2" cy="287.7" r="9.4" fill="#4d72a8" stroke="#34558a" stroke-width="0.9"/>
<g transform="translate(487.2,287.7) rotate(-20)"><path d="M-7,0 L6,0 M2,-3.5 L6.5,0 L2,3.5" stroke="#dfe8f4" stroke-width="1.6" fill="none"/></g>
<circle cx="499" cy="303" r="9.4" fill="#4d72a8" stroke="#34558a" stroke-width="0.9"/>
<g transform="translate(499,303) rotate(-40)"><path d="M-7,0 L6,0 M2,-3.5 L6.5,0 L2,3.5" stroke="#dfe8f4" stroke-width="1.6" fill="none"/></g>
<circle cx="503.7" cy="320.8" r="9.4" fill="#4d72a8" stroke="#34558a" stroke-width="0.9"/>
<g transform="translate(503.7,320.8) rotate(0)"><path d="M-7,0 L6,0 M2,-3.5 L6.5,0 L2,3.5" stroke="#dfe8f4" stroke-width="1.6" fill="none"/></g>
<circle cx="505" cy="338.4" r="9.4" fill="#4d72a8" stroke="#34558a" stroke-width="0.9"/>
<g transform="translate(505,338.4) rotate(0)"><path d="M-7,0 L6,0 M2,-3.5 L6.5,0 L2,3.5" stroke="#dfe8f4" stroke-width="1.6" fill="none"/></g>
<circle cx="501.4" cy="358.5" r="9.4" fill="#4d72a8" stroke="#34558a" stroke-width="0.9"/>
<g transform="translate(501.4,358.5) rotate(0)"><path d="M-7,0 L6,0 M2,-3.5 L6.5,0 L2,3.5" stroke="#dfe8f4" stroke-width="1.6" fill="none"/></g>
<circle cx="493" cy="376" r="9.4" fill="#4d72a8" stroke="#34558a" stroke-width="0.9"/>
<g transform="translate(493,376) rotate(35)"><path d="M-7,0 L6,0 M2,-3.5 L6.5,0 L2,3.5" stroke="#dfe8f4" stroke-width="1.6" fill="none"/></g>
<path d="M468.3,368 L468.3,307 M463.5,314 L468.3,306.6 L473,314" stroke="#d8e2ef" stroke-width="1.8" fill="none"/>
<text transform="translate(519.3,292.8) scale(0.8,1)" font-size="21.5" fill="#000">E</text>
<clipPath id="cF"><path clip-rule="evenodd" d="M272,500 H460 V700 H272 Z M358,500 L356,538 L343,565 L339,592 L338,621 L417.5,609 L460,600 L460,500 Z"/></clipPath>
<g clip-path="url(#cF)">
<circle cx="346" cy="601" r="58" fill="url(#gF)"/>
<path d="M394.5,604.7 L413.5,606.2 M326.3,556.3 L319.1,540.0 M352.2,654.7 L354.3,673.5 M342.9,547.8 L341.8,529.1 M295.8,589.5 L276.5,585.2 M394.4,599.9 L411.8,599.5 M393.5,582.1 L410.9,575.2 M321.4,645.5 L310.6,665.0 M358.2,649.0 L363.2,668.6 M292.8,584.7 L271.0,578.0 M315.6,640.0 L302.4,656.8 M393.8,597.7 L414.3,596.3 M382.0,561.8 L395.0,547.8 M361.5,549.4 L367.1,531.2 M314.6,562.6 L303.5,549.0 M320.0,644.4 L309.9,661.1 M312.9,557.4 L298.9,538.8 M401.3,592.7 L423.7,589.4 M329.0,647.1 L321.9,666.2 M294.8,585.8 L277.1,580.6 M365.5,652.8 L373.1,673.0 M329.7,555.4 L323.2,537.3 M390.9,572.5 L410.4,560.2 M362.9,649.7 L370.0,670.3 M294.9,619.5 L275.1,626.7 M381.8,633.8 L397.9,648.5 M382.1,634.6 L396.0,647.6 M333.5,547.6 L328.8,527.4 M291.7,601.6 L272.1,601.9 M309.2,639.0 L294.5,654.2 M393.2,612.5 L410.7,616.8 M337.7,548.1 L334.1,525.3 M351.5,551.4 L353.8,530.4 M396.5,596.2 L414.0,594.6 M310.5,636.4 L297.5,649.4 M392.8,614.6 L413.3,620.6 M396.3,617.3 L414.4,623.2 M365.0,652.2 L371.9,670.7 M366.8,648.2 L375.4,667.6 M291.7,592.6 L271.6,589.5 M292.9,592.9 L272.6,589.8 M335.4,550.4 L331.6,532.4 M384.8,639.0 L400.5,654.5 M396.1,582.2 L415.8,574.8 M373.6,648.4 L383.0,664.7 M302.5,623.2 L285.4,631.9 M327.9,649.1 L320.5,668.9 M297.9,588.2 L277.4,582.7 M340.9,546.6 L339.2,528.3 M304.5,564.6 L289.8,551.6 M362.1,653.1 L368.1,672.3 M301.6,632.7 L285.2,644.5 M361.8,647.9 L367.8,666.0 M329.6,552.8 L322.8,532.6 M391.6,621.1 L410.3,629.3 M294.5,607.7 L272.2,610.6 M337.6,649.5 L334.6,666.8 M296.1,606.5 L276.3,608.7 M393.6,602.7 L412.4,603.3 M348.4,550.8 L349.5,528.8 M301.1,576.5 L282.2,566.2 M351.6,653.5 L353.9,675.7 M297.2,588.2 L279.8,583.6 M302.0,578.9 L284.8,570.3 M292.4,586.4 L271.3,580.6 M291.5,594.4 L271.8,591.9 M305.3,635.7 L289.5,649.2 M355.1,651.4 L358.9,672.8 M348.6,654.6 L349.5,672.9 M397.3,586.0 L416.2,580.4 M400.1,595.3 L418.5,593.3 M346.6,652.9 L346.8,675.7 M376.5,638.1 L388.3,652.6 M395.2,615.2 L414.7,620.9 M300.5,618.9 L284.3,625.2 M362.8,552.3 L369.3,533.3 M293.0,608.4 L270.5,611.5 M371.1,553.4 L380.3,535.8 M369.7,643.2 L380.0,661.8 M395.2,619.4 L416.3,627.3 M323.6,646.9 L315.0,664.6 M396.3,582.7 L417.3,575.1 M398.3,614.0 L418.1,618.9 M301.6,632.7 L283.6,645.5 M391.6,572.2 L410.9,560.1 M298.8,623.9 L279.2,633.4 M299.2,615.0 L280.0,620.8 M383.9,561.2 L397.0,547.5 M309.6,634.7 L295.6,647.7 M395.7,588.1 L414.3,583.2 M338.7,652.0 L335.8,672.8 M318.9,642.2 L308.8,657.6 M342.6,656.2 L341.4,675.3 M347.2,552.4 L347.8,531.5 M340.6,655.0 L338.5,675.3 M388.7,623.9 L407.2,633.8 M295.9,587.5 L277.1,582.4 M327.3,552.7 L320.8,535.8 M305.4,571.1 L288.0,558.3 M294.3,584.6 L276.5,578.9 M331.9,550.0 L326.0,528.6 M385.1,566.1 L400.7,552.3 M351.3,551.3 L353.5,531.3 M358.1,549.7 L362.8,529.5 M380.4,557.1 L392.6,541.5 M393.2,625.0 L409.8,633.4 M396.8,591.2 L416.9,587.3 M368.6,550.9 L376.4,533.5 M298.9,615.2 L280.1,620.9 M382.8,641.9 L396.3,656.8 M303.6,636.4 L286.2,650.9 M319.3,645.6 L308.4,663.7 M364.6,646.2 L372.7,665.9 M374.2,646.7 L385.6,665.3 M303.5,573.4 L285.2,561.6 M357.0,554.0 L361.8,533.2 M313.2,563.0 L301.2,549.1 M390.5,632.5 L409.0,645.6 M317.6,641.2 L307.4,655.7 M302.9,626.8 L287.7,636.0 M329.9,653.2 L324.4,670.9 M303.1,630.6 L287.8,641.1 M393.0,612.0 L410.5,616.0 M400.2,592.2 L421.9,588.7 M386.8,571.2 L401.9,560.1 M382.2,562.4 L397.6,545.9 M313.6,640.7 L300.1,657.1 M382.3,567.9 L396.0,555.4 M398.3,605.5 L420.7,607.4 M301.4,580.8 L282.7,572.2" fill="none" stroke="#3064ac" stroke-width="3.4" stroke-linecap="round"/>
<path d="M394.5,604.7 L413.5,606.2 M326.3,556.3 L319.1,540.0 M352.2,654.7 L354.3,673.5 M342.9,547.8 L341.8,529.1 M295.8,589.5 L276.5,585.2 M394.4,599.9 L411.8,599.5 M393.5,582.1 L410.9,575.2 M321.4,645.5 L310.6,665.0 M358.2,649.0 L363.2,668.6 M292.8,584.7 L271.0,578.0 M315.6,640.0 L302.4,656.8 M393.8,597.7 L414.3,596.3 M382.0,561.8 L395.0,547.8 M361.5,549.4 L367.1,531.2 M314.6,562.6 L303.5,549.0 M320.0,644.4 L309.9,661.1 M312.9,557.4 L298.9,538.8 M401.3,592.7 L423.7,589.4 M329.0,647.1 L321.9,666.2 M294.8,585.8 L277.1,580.6 M365.5,652.8 L373.1,673.0 M329.7,555.4 L323.2,537.3 M390.9,572.5 L410.4,560.2 M362.9,649.7 L370.0,670.3 M294.9,619.5 L275.1,626.7 M381.8,633.8 L397.9,648.5 M382.1,634.6 L396.0,647.6 M333.5,547.6 L328.8,527.4 M291.7,601.6 L272.1,601.9 M309.2,639.0 L294.5,654.2 M393.2,612.5 L410.7,616.8 M337.7,548.1 L334.1,525.3 M351.5,551.4 L353.8,530.4 M396.5,596.2 L414.0,594.6 M310.5,636.4 L297.5,649.4 M392.8,614.6 L413.3,620.6 M396.3,617.3 L414.4,623.2 M365.0,652.2 L371.9,670.7 M366.8,648.2 L375.4,667.6 M291.7,592.6 L271.6,589.5 M292.9,592.9 L272.6,589.8 M335.4,550.4 L331.6,532.4 M384.8,639.0 L400.5,654.5 M396.1,582.2 L415.8,574.8 M373.6,648.4 L383.0,664.7 M302.5,623.2 L285.4,631.9 M327.9,649.1 L320.5,668.9 M297.9,588.2 L277.4,582.7 M340.9,546.6 L339.2,528.3 M304.5,564.6 L289.8,551.6 M362.1,653.1 L368.1,672.3 M301.6,632.7 L285.2,644.5 M361.8,647.9 L367.8,666.0 M329.6,552.8 L322.8,532.6 M391.6,621.1 L410.3,629.3 M294.5,607.7 L272.2,610.6 M337.6,649.5 L334.6,666.8 M296.1,606.5 L276.3,608.7 M393.6,602.7 L412.4,603.3 M348.4,550.8 L349.5,528.8 M301.1,576.5 L282.2,566.2 M351.6,653.5 L353.9,675.7 M297.2,588.2 L279.8,583.6 M302.0,578.9 L284.8,570.3 M292.4,586.4 L271.3,580.6 M291.5,594.4 L271.8,591.9 M305.3,635.7 L289.5,649.2 M355.1,651.4 L358.9,672.8 M348.6,654.6 L349.5,672.9 M397.3,586.0 L416.2,580.4 M400.1,595.3 L418.5,593.3 M346.6,652.9 L346.8,675.7 M376.5,638.1 L388.3,652.6 M395.2,615.2 L414.7,620.9 M300.5,618.9 L284.3,625.2 M362.8,552.3 L369.3,533.3 M293.0,608.4 L270.5,611.5 M371.1,553.4 L380.3,535.8 M369.7,643.2 L380.0,661.8 M395.2,619.4 L416.3,627.3 M323.6,646.9 L315.0,664.6 M396.3,582.7 L417.3,575.1 M398.3,614.0 L418.1,618.9 M301.6,632.7 L283.6,645.5 M391.6,572.2 L410.9,560.1 M298.8,623.9 L279.2,633.4 M299.2,615.0 L280.0,620.8 M383.9,561.2 L397.0,547.5 M309.6,634.7 L295.6,647.7 M395.7,588.1 L414.3,583.2 M338.7,652.0 L335.8,672.8 M318.9,642.2 L308.8,657.6 M342.6,656.2 L341.4,675.3 M347.2,552.4 L347.8,531.5 M340.6,655.0 L338.5,675.3 M388.7,623.9 L407.2,633.8 M295.9,587.5 L277.1,582.4 M327.3,552.7 L320.8,535.8 M305.4,571.1 L288.0,558.3 M294.3,584.6 L276.5,578.9 M331.9,550.0 L326.0,528.6 M385.1,566.1 L400.7,552.3 M351.3,551.3 L353.5,531.3 M358.1,549.7 L362.8,529.5 M380.4,557.1 L392.6,541.5 M393.2,625.0 L409.8,633.4 M396.8,591.2 L416.9,587.3 M368.6,550.9 L376.4,533.5 M298.9,615.2 L280.1,620.9 M382.8,641.9 L396.3,656.8 M303.6,636.4 L286.2,650.9 M319.3,645.6 L308.4,663.7 M364.6,646.2 L372.7,665.9 M374.2,646.7 L385.6,665.3 M303.5,573.4 L285.2,561.6 M357.0,554.0 L361.8,533.2 M313.2,563.0 L301.2,549.1 M390.5,632.5 L409.0,645.6 M317.6,641.2 L307.4,655.7 M302.9,626.8 L287.7,636.0 M329.9,653.2 L324.4,670.9 M303.1,630.6 L287.8,641.1 M393.0,612.0 L410.5,616.0 M400.2,592.2 L421.9,588.7 M386.8,571.2 L401.9,560.1 M382.2,562.4 L397.6,545.9 M313.6,640.7 L300.1,657.1 M382.3,567.9 L396.0,555.4 M398.3,605.5 L420.7,607.4 M301.4,580.8 L282.7,572.2" fill="none" stroke="#9ccaf0" stroke-width="1.53" stroke-linecap="round"/>
<path d="M371.5,617.2 L382.4,623.1 M311.5,625.5 L296.8,635.4 M379.7,624.3 L395.6,634.1 M343.1,655.6 L342.3,678.9 M351.4,620.8 L354.9,630.8 M360.9,614.3 L369.7,620.5 M307.9,636.5 L291.0,651.8 M361.5,620.1 L368.4,627.3 M321.6,612.8 L311.9,616.9 M365.7,610.5 L374.3,613.7 M355.5,628.8 L360.0,639.7 M320.7,616.9 L308.5,623.9 M321.8,638.7 L312.3,653.5 M318.7,637.2 L309.3,649.5 M358.5,631.3 L364.2,643.1 M309.6,616.9 L297.2,621.7 M348.9,652.2 L350.4,671.0 M333.7,624.5 L329.1,633.2 M336.8,623.3 L333.0,632.7 M353.9,630.8 L357.2,641.3 M395.2,619.5 L415.9,626.3 M309.0,620.9 L291.9,629.4 M310.9,630.9 L297.2,642.1 M345.0,633.6 L345.0,646.4 M330.0,628.2 L322.6,640.7 M344.8,646.6 L344.8,666.2 M336.0,628.1 L332.2,638.6 M364.7,609.2 L376.0,612.7 M333.8,655.1 L329.0,677.2 M369.6,650.2 L380.6,671.3 M348.1,626.7 L349.5,637.3 M372.1,626.6 L381.8,635.0 M318.8,649.6 L309.9,665.5 M318.0,636.5 L307.2,649.8 M314.4,622.7 L300.2,631.9 M394.2,623.1 L410.8,629.8 M393.7,618.6 L414.1,625.1 M325.5,647.0 L318.3,663.5 M373.5,621.9 L387.6,631.3 M316.5,614.6 L304.3,619.6 M352.4,654.1 L354.7,670.1 M322.2,625.0 L312.1,634.8 M364.4,617.0 L374.8,624.4 M345.7,656.3 L346.0,679.7 M331.6,622.2 L325.0,631.6 M307.1,617.3 L294.1,622.2 M383.9,640.1 L401.5,656.9 M365.8,630.2 L375.3,642.6 M345.0,631.8 L345.1,646.8 M335.0,637.5 L331.6,649.5 M344.8,650.8 L344.7,667.2 M385.8,626.3 L404.5,636.9 M357.8,640.5 L363.3,656.6 M344.2,629.2 L343.9,640.4 M365.1,624.4 L372.8,632.5 M353.7,632.0 L358.1,646.3 M368.9,650.5 L379.1,670.9 M360.4,625.7 L367.6,636.2 M348.6,644.4 L349.8,658.8 M342.3,650.9 L341.2,669.2 M375.8,645.0 L386.8,659.9 M301.8,618.9 L288.0,624.0 M349.1,629.9 L351.2,643.3 M350.2,626.4 L353.0,639.2 M315.9,635.7 L304.0,649.1 M392.4,628.0 L409.1,636.9 M343.4,643.1 L342.8,659.3 M393.4,620.4 L412.0,627.1 M359.3,651.5 L365.7,672.9 M319.0,647.7 L309.5,664.0 M374.9,621.8 L387.9,630.0 M314.7,639.3 L302.2,654.2 M334.6,647.2 L330.3,665.2 M384.5,616.9 L399.2,622.0 M383.9,623.3 L401.4,632.4 M369.3,641.5 L379.4,657.4 M323.7,649.2 L314.8,668.4 M383.6,624.1 L398.2,632.0 M355.4,647.5 L359.0,662.9 M329.6,653.2 L324.7,669.3" fill="none" stroke="#3a70bc" stroke-width="3.0" stroke-linecap="round"/>
<path d="M371.5,617.2 L382.4,623.1 M311.5,625.5 L296.8,635.4 M379.7,624.3 L395.6,634.1 M343.1,655.6 L342.3,678.9 M351.4,620.8 L354.9,630.8 M360.9,614.3 L369.7,620.5 M307.9,636.5 L291.0,651.8 M361.5,620.1 L368.4,627.3 M321.6,612.8 L311.9,616.9 M365.7,610.5 L374.3,613.7 M355.5,628.8 L360.0,639.7 M320.7,616.9 L308.5,623.9 M321.8,638.7 L312.3,653.5 M318.7,637.2 L309.3,649.5 M358.5,631.3 L364.2,643.1 M309.6,616.9 L297.2,621.7 M348.9,652.2 L350.4,671.0 M333.7,624.5 L329.1,633.2 M336.8,623.3 L333.0,632.7 M353.9,630.8 L357.2,641.3 M395.2,619.5 L415.9,626.3 M309.0,620.9 L291.9,629.4 M310.9,630.9 L297.2,642.1 M345.0,633.6 L345.0,646.4 M330.0,628.2 L322.6,640.7 M344.8,646.6 L344.8,666.2 M336.0,628.1 L332.2,638.6 M364.7,609.2 L376.0,612.7 M333.8,655.1 L329.0,677.2 M369.6,650.2 L380.6,671.3 M348.1,626.7 L349.5,637.3 M372.1,626.6 L381.8,635.0 M318.8,649.6 L309.9,665.5 M318.0,636.5 L307.2,649.8 M314.4,622.7 L300.2,631.9 M394.2,623.1 L410.8,629.8 M393.7,618.6 L414.1,625.1 M325.5,647.0 L318.3,663.5 M373.5,621.9 L387.6,631.3 M316.5,614.6 L304.3,619.6 M352.4,654.1 L354.7,670.1 M322.2,625.0 L312.1,634.8 M364.4,617.0 L374.8,624.4 M345.7,656.3 L346.0,679.7 M331.6,622.2 L325.0,631.6 M307.1,617.3 L294.1,622.2 M383.9,640.1 L401.5,656.9 M365.8,630.2 L375.3,642.6 M345.0,631.8 L345.1,646.8 M335.0,637.5 L331.6,649.5 M344.8,650.8 L344.7,667.2 M385.8,626.3 L404.5,636.9 M357.8,640.5 L363.3,656.6 M344.2,629.2 L343.9,640.4 M365.1,624.4 L372.8,632.5 M353.7,632.0 L358.1,646.3 M368.9,650.5 L379.1,670.9 M360.4,625.7 L367.6,636.2 M348.6,644.4 L349.8,658.8 M342.3,650.9 L341.2,669.2 M375.8,645.0 L386.8,659.9 M301.8,618.9 L288.0,624.0 M349.1,629.9 L351.2,643.3 M350.2,626.4 L353.0,639.2 M315.9,635.7 L304.0,649.1 M392.4,628.0 L409.1,636.9 M343.4,643.1 L342.8,659.3 M393.4,620.4 L412.0,627.1 M359.3,651.5 L365.7,672.9 M319.0,647.7 L309.5,664.0 M374.9,621.8 L387.9,630.0 M314.7,639.3 L302.2,654.2 M334.6,647.2 L330.3,665.2 M384.5,616.9 L399.2,622.0 M383.9,623.3 L401.4,632.4 M369.3,641.5 L379.4,657.4 M323.7,649.2 L314.8,668.4 M383.6,624.1 L398.2,632.0 M355.4,647.5 L359.0,662.9 M329.6,653.2 L324.7,669.3" fill="none" stroke="#a8d4f4" stroke-width="1.35" stroke-linecap="round"/>
<path d="M291.3,603.5 L269.6,604.5 M300.6,577.6 L282.6,568.1 M300.6,616.8 L285.6,622.1 M304.0,587.6 L288.2,582.5 M299.4,594.3 L280.8,591.5 M309.7,579.8 L294.9,570.8 M307.2,582.3 L294.4,576.0 M295.5,595.7 L277.5,593.8 M297.1,609.5 L280.7,612.4 M311.8,584.7 L298.1,578.0 M291.3,600.7 L274.6,600.6 M306.5,582.4 L292.4,575.6 M301.1,607.8 L282.5,610.7 M300.1,573.0 L283.6,562.7 M300.7,606.8 L283.3,609.0 M291.4,605.0 L275.1,606.3 M307.5,605.9 L294.0,607.7 M307.9,611.9 L293.7,616.0 M305.2,579.1 L289.8,570.6 M308.0,602.0 L292.9,602.5 M311.9,590.3 L297.7,585.7 M297.2,608.4 L280.6,610.9" fill="none" stroke="#3a70bc" stroke-width="3.0" stroke-linecap="round"/>
<path d="M291.3,603.5 L269.6,604.5 M300.6,577.6 L282.6,568.1 M300.6,616.8 L285.6,622.1 M304.0,587.6 L288.2,582.5 M299.4,594.3 L280.8,591.5 M309.7,579.8 L294.9,570.8 M307.2,582.3 L294.4,576.0 M295.5,595.7 L277.5,593.8 M297.1,609.5 L280.7,612.4 M311.8,584.7 L298.1,578.0 M291.3,600.7 L274.6,600.6 M306.5,582.4 L292.4,575.6 M301.1,607.8 L282.5,610.7 M300.1,573.0 L283.6,562.7 M300.7,606.8 L283.3,609.0 M291.4,605.0 L275.1,606.3 M307.5,605.9 L294.0,607.7 M307.9,611.9 L293.7,616.0 M305.2,579.1 L289.8,570.6 M308.0,602.0 L292.9,602.5 M311.9,590.3 L297.7,585.7 M297.2,608.4 L280.6,610.9" fill="none" stroke="#a8d4f4" stroke-width="1.35" stroke-linecap="round"/>
<path d="M394.5,617.8 L423.2,626.4 M393.2,629.0 L417.5,642.1 M388.2,627.9 L410.7,640.8 M395.8,605.6 L420.9,607.0 M396.3,610.8 L425.6,615.2 M387.0,621.5 L408.5,630.9 M395.8,610.2 L425.3,614.3 M395.1,626.6 L421.5,639.0 M390.4,619.6 L414.5,628.4 M395.8,608.8 L423.8,612.0 M392.1,618.3 L417.3,626.6 M398.6,610.4 L427.2,614.3 M394.5,624.6 L419.1,635.4 M393.1,606.1 L422.3,608.0 M390.0,623.9 L416.2,636.1 M398.7,613.2 L423.8,618.0 M396.2,625.1 L422.1,636.3 M389.9,614.7 L414.1,620.9 M393.0,609.2 L416.9,612.3 M390.5,610.6 L416.4,614.9 M391.4,613.5 L420.0,620.0 M395.3,611.6 L425.0,616.7 M395.9,625.5 L422.8,637.5 M385.5,624.0 L409.8,636.7 M392.8,611.9 L420.9,617.2 M389.9,622.4 L413.8,632.8 M399.7,611.4 L428.8,615.9 M395.5,610.3 L419.9,613.8 M395.2,610.5 L425.3,615.0 M390.6,626.3 L416.7,639.6 M397.3,610.3 L428.4,614.6 M400.1,607.7 L432.1,610.4 M398.0,613.9 L429.0,620.2 M395.2,607.1 L423.0,609.4 M388.5,623.3 L414.1,635.3 M395.5,623.6 L423.3,634.9 M391.1,626.6 L416.1,639.4 M393.1,615.5 L419.1,622.2 M392.7,616.3 L416.6,622.9 M399.1,615.0 L425.7,620.9" fill="none" stroke="#3a70bc" stroke-width="3.0" stroke-linecap="round"/>
<path d="M394.5,617.8 L423.2,626.4 M393.2,629.0 L417.5,642.1 M388.2,627.9 L410.7,640.8 M395.8,605.6 L420.9,607.0 M396.3,610.8 L425.6,615.2 M387.0,621.5 L408.5,630.9 M395.8,610.2 L425.3,614.3 M395.1,626.6 L421.5,639.0 M390.4,619.6 L414.5,628.4 M395.8,608.8 L423.8,612.0 M392.1,618.3 L417.3,626.6 M398.6,610.4 L427.2,614.3 M394.5,624.6 L419.1,635.4 M393.1,606.1 L422.3,608.0 M390.0,623.9 L416.2,636.1 M398.7,613.2 L423.8,618.0 M396.2,625.1 L422.1,636.3 M389.9,614.7 L414.1,620.9 M393.0,609.2 L416.9,612.3 M390.5,610.6 L416.4,614.9 M391.4,613.5 L420.0,620.0 M395.3,611.6 L425.0,616.7 M395.9,625.5 L422.8,637.5 M385.5,624.0 L409.8,636.7 M392.8,611.9 L420.9,617.2 M389.9,622.4 L413.8,632.8 M399.7,611.4 L428.8,615.9 M395.5,610.3 L419.9,613.8 M395.2,610.5 L425.3,615.0 M390.6,626.3 L416.7,639.6 M397.3,610.3 L428.4,614.6 M400.1,607.7 L432.1,610.4 M398.0,613.9 L429.0,620.2 M395.2,607.1 L423.0,609.4 M388.5,623.3 L414.1,635.3 M395.5,623.6 L423.3,634.9 M391.1,626.6 L416.1,639.4 M393.1,615.5 L419.1,622.2 M392.7,616.3 L416.6,622.9 M399.1,615.0 L425.7,620.9" fill="none" stroke="#a8d4f4" stroke-width="1.35" stroke-linecap="round"/>
<path d="M326.7,579.8 L324.2,577.1 M322.7,558.5 L320.4,553.5 M318.4,574.8 L315.0,571.8 M306.0,602.8 L301.0,604.5 M311.6,591.4 L306.9,591.3 M301.1,578.7 L295.0,576.5 M331.0,576.9 L329.6,574.0 M312.1,591.1 L307.5,590.9 M324.3,564.2 L322.0,559.6 M326.6,584.1 L323.8,582.2 M310.8,595.1 L306.9,595.6 M310.5,565.3 L307.0,562.0 M327.1,584.3 L324.6,582.4 M301.5,600.3 L295.9,601.6 M331.3,571.6 L329.9,567.6 M318.5,569.5 L315.0,565.5" fill="none" stroke="#7a88f0" stroke-width="1.5" stroke-linecap="round"/>
<path d="M326.7,579.8 L324.2,577.1 M322.7,558.5 L320.4,553.5 M318.4,574.8 L315.0,571.8 M306.0,602.8 L301.0,604.5 M311.6,591.4 L306.9,591.3 M301.1,578.7 L295.0,576.5 M331.0,576.9 L329.6,574.0 M312.1,591.1 L307.5,590.9 M324.3,564.2 L322.0,559.6 M326.6,584.1 L323.8,582.2 M310.8,595.1 L306.9,595.6 M310.5,565.3 L307.0,562.0 M327.1,584.3 L324.6,582.4 M301.5,600.3 L295.9,601.6 M331.3,571.6 L329.9,567.6 M318.5,569.5 L315.0,565.5" fill="none" stroke="#e0e8ff" stroke-width="0.75" stroke-linecap="round"/>
</g>
<path d="M356,538 Q370,548 373,571 L371,591 L417.5,607 Q405,618 380,620 L338,621 L340,590 Q343,560 356,538 Z" fill="#a8dcf0" stroke="#1a2a90" stroke-width="1"/>
<path d="M338,621 L371,591" fill="none" stroke="#70b8e0" stroke-width="0.8"/>
<circle cx="368.2" cy="562.1" r="1.1" fill="#e8f8ff"/><ellipse cx="351.5" cy="556.1" rx="1.1" ry="1.2" fill="#b07030"/><circle cx="404.1" cy="607.2" r="1.0" fill="#e8f8ff"/><ellipse cx="363.5" cy="590.9" rx="1.1" ry="1.3" fill="#b07030"/><circle cx="350.8" cy="594.4" r="1.0" fill="#e8f8ff"/><circle cx="341.6" cy="555.0" r="1.0" fill="#e8f8ff"/><ellipse cx="371.5" cy="600.1" rx="1.7" ry="1.2" fill="#b07030"/><circle cx="363.8" cy="555.3" r="0.6" fill="#e8f8ff"/><ellipse cx="403.8" cy="609.7" rx="1.1" ry="1.2" fill="#b07030"/><ellipse cx="349.4" cy="610.8" rx="1.6" ry="1.2" fill="#b07030"/><ellipse cx="371.0" cy="607.8" rx="1.2" ry="1.1" fill="#b07030"/><ellipse cx="370.4" cy="578.3" rx="1.2" ry="0.9" fill="#b07030"/><circle cx="352.2" cy="547.3" r="1.0" fill="#e8f8ff"/><ellipse cx="344.8" cy="562.6" rx="1.1" ry="1.0" fill="#b07030"/><circle cx="356.9" cy="595.0" r="1.2" fill="#e8f8ff"/><ellipse cx="384.3" cy="597.8" rx="1.4" ry="1.4" fill="#b07030"/><circle cx="406.1" cy="605.8" r="1.0" fill="#e8f8ff"/><ellipse cx="353.1" cy="598.8" rx="1.1" ry="1.1" fill="#b07030"/><ellipse cx="390.4" cy="613.2" rx="1.2" ry="0.9" fill="#b07030"/><circle cx="401.4" cy="609.3" r="1.0" fill="#e8f8ff"/><ellipse cx="362.4" cy="604.0" rx="1.2" ry="1.1" fill="#b07030"/><circle cx="353.5" cy="580.1" r="0.9" fill="#e8f8ff"/><ellipse cx="344.0" cy="606.1" rx="1.6" ry="0.8" fill="#b07030"/><ellipse cx="367.1" cy="557.7" rx="1.2" ry="1.3" fill="#b07030"/><circle cx="342.0" cy="605.9" r="0.6" fill="#e8f8ff"/><ellipse cx="368.5" cy="558.8" rx="1.5" ry="1.2" fill="#b07030"/><ellipse cx="353.4" cy="580.8" rx="1.6" ry="1.3" fill="#b07030"/><circle cx="372.5" cy="597.8" r="0.8" fill="#e8f8ff"/>
<g stroke="#111" stroke-width="1.3" stroke-dasharray="3.5,2.5"><line x1="357.8" y1="538" x2="422.5" y2="503.2"/><line x1="417.5" y1="606" x2="450" y2="587.7"/></g>
<ellipse cx="462.6" cy="530.2" rx="49" ry="46" fill="#4a7dbe" stroke="#3a68a8" stroke-width="1" stroke-dasharray="2,1"/>
<circle cx="442.7" cy="497.6" r="8" fill="#4a7dbe" stroke="#2f5b98" stroke-width="0.9"/>
<g transform="translate(442.7,497.6) rotate(-90)"><path d="M-6,0 L6,0 M2,-3.5 L6.5,0 L2,3.5" stroke="#fff" stroke-width="1.6" fill="none"/></g>
<circle cx="485" cy="497.6" r="8" fill="#4a7dbe" stroke="#2f5b98" stroke-width="0.9"/>
<g transform="translate(485,497.6) rotate(-60)"><path d="M-6,0 L6,0 M2,-3.5 L6.5,0 L2,3.5" stroke="#fff" stroke-width="1.6" fill="none"/></g>
<circle cx="425.4" cy="517.5" r="8" fill="#4a7dbe" stroke="#2f5b98" stroke-width="0.9"/>
<g transform="translate(425.4,517.5) rotate(-40)"><path d="M-6,0 L6,0 M2,-3.5 L6.5,0 L2,3.5" stroke="#fff" stroke-width="1.6" fill="none"/></g>
<circle cx="465.2" cy="516.4" r="8" fill="#4a7dbe" stroke="#2f5b98" stroke-width="0.9"/>
<g transform="translate(465.2,516.4) rotate(-135)"><path d="M-6,0 L6,0 M2,-3.5 L6.5,0 L2,3.5" stroke="#fff" stroke-width="1.6" fill="none"/></g>
<circle cx="495" cy="524.1" r="8" fill="#4a7dbe" stroke="#2f5b98" stroke-width="0.9"/>
<g transform="translate(495,524.1) rotate(-145)"><path d="M-6,0 L6,0 M2,-3.5 L6.5,0 L2,3.5" stroke="#fff" stroke-width="1.6" fill="none"/></g>
<circle cx="442" cy="536.3" r="8" fill="#4a7dbe" stroke="#2f5b98" stroke-width="0.9"/>
<g transform="translate(442,536.3) rotate(-135)"><path d="M-6,0 L6,0 M2,-3.5 L6.5,0 L2,3.5" stroke="#fff" stroke-width="1.6" fill="none"/></g>
<circle cx="469.6" cy="539.6" r="8" fill="#4a7dbe" stroke="#2f5b98" stroke-width="0.9"/>
<g transform="translate(469.6,539.6) rotate(-60)"><path d="M-6,0 L6,0 M2,-3.5 L6.5,0 L2,3.5" stroke="#fff" stroke-width="1.6" fill="none"/></g>
<circle cx="494" cy="551.8" r="8" fill="#4a7dbe" stroke="#2f5b98" stroke-width="0.9"/>
<g transform="translate(494,551.8) rotate(-40)"><path d="M-6,0 L6,0 M2,-3.5 L6.5,0 L2,3.5" stroke="#fff" stroke-width="1.6" fill="none"/></g>
<circle cx="438.7" cy="560.6" r="8" fill="#4a7dbe" stroke="#2f5b98" stroke-width="0.9"/>
<g transform="translate(438.7,560.6) rotate(-140)"><path d="M-6,0 L6,0 M2,-3.5 L6.5,0 L2,3.5" stroke="#fff" stroke-width="1.6" fill="none"/></g>
<circle cx="467.4" cy="567.2" r="8" fill="#4a7dbe" stroke="#2f5b98" stroke-width="0.9"/>
<g transform="translate(467.4,567.2) rotate(-40)"><path d="M-6,0 L6,0 M2,-3.5 L6.5,0 L2,3.5" stroke="#fff" stroke-width="1.6" fill="none"/></g>
<text transform="translate(520.5,515.7) scale(0.83,1)" font-size="21" fill="#000">F</text>
</svg></body></html>
